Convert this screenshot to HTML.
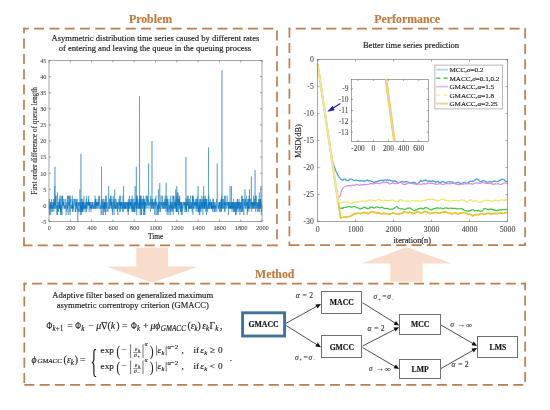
<!DOCTYPE html>
<html><head><meta charset="utf-8"><title>GMACC graphical abstract</title>
<style>
html,body{margin:0;padding:0;background:#fff;}
#root{position:relative;width:550px;height:410px;overflow:hidden;background:#fff;}
svg{display:block;}
svg text{font-family:"Liberation Serif","DejaVu Serif",serif;stroke:currentColor;stroke-width:0.15px;}
</style></head><body><div id="root">
<svg width="550" height="410" viewBox="0 0 550 410">
<polygon points="136.3,247.5 168.1,247.5 168.1,266.5 198.2,266.5 152.3,282.8 106.5,266.5 136.3,266.5" fill="#f9ddcc"/>
<polygon points="390.4,281.6 422.7,281.6 422.7,263.5 452,263.5 406.7,247.2 361.6,263.5 390.4,263.5" fill="#f9ddcc"/>
<line x1="23.15" y1="28.60" x2="277.85" y2="28.60" stroke="#bd7f4b" stroke-width="1.7" stroke-dasharray="10.0 5.28" stroke-dashoffset="4.33"/>
<line x1="277.00" y1="27.75" x2="277.00" y2="246.15" stroke="#bd7f4b" stroke-width="1.7" stroke-dasharray="10.0 5.28" stroke-dashoffset="12.43"/>
<line x1="277.85" y1="245.30" x2="23.15" y2="245.30" stroke="#bd7f4b" stroke-width="1.7" stroke-dasharray="10.0 5.28" stroke-dashoffset="14.43"/>
<line x1="24.00" y1="27.75" x2="24.00" y2="246.15" stroke="#bd7f4b" stroke-width="1.7" stroke-dasharray="10.0 5.28" stroke-dashoffset="4.43"/>
<line x1="288.55" y1="28.60" x2="525.95" y2="28.60" stroke="#bd7f4b" stroke-width="1.7" stroke-dasharray="10.0 5.28" stroke-dashoffset="8.13"/>
<line x1="525.10" y1="27.75" x2="525.10" y2="246.05" stroke="#bd7f4b" stroke-width="1.7" stroke-dasharray="10.0 5.28" stroke-dashoffset="14.43"/>
<line x1="288.55" y1="245.20" x2="525.95" y2="245.20" stroke="#bd7f4b" stroke-width="1.7" stroke-dasharray="10.0 5.28" stroke-dashoffset="14.43"/>
<line x1="289.40" y1="27.75" x2="289.40" y2="246.05" stroke="#bd7f4b" stroke-width="1.7" stroke-dasharray="10.0 5.28" stroke-dashoffset="0.05"/>
<line x1="23.45" y1="283.70" x2="525.95" y2="283.70" stroke="#bd7f4b" stroke-width="1.7" stroke-dasharray="10.0 5.28" stroke-dashoffset="6.65"/>
<line x1="525.10" y1="282.85" x2="525.10" y2="385.75" stroke="#bd7f4b" stroke-width="1.7" stroke-dasharray="10.0 5.28" stroke-dashoffset="2.55"/>
<line x1="23.45" y1="384.90" x2="525.95" y2="384.90" stroke="#bd7f4b" stroke-width="1.7" stroke-dasharray="10.0 5.28" stroke-dashoffset="14.43"/>
<line x1="24.30" y1="282.85" x2="24.30" y2="385.75" stroke="#bd7f4b" stroke-width="1.7" stroke-dasharray="10.0 5.28" stroke-dashoffset="1.55"/>
<text x="150.50" y="22.80" font-size="11.85" text-anchor="middle" font-weight="bold" font-style="normal" fill="#c07a3c" color="#c07a3c" >Problem</text>
<text x="407.20" y="23.10" font-size="11.85" text-anchor="middle" font-weight="bold" font-style="normal" fill="#c07a3c" color="#c07a3c" >Performance</text>
<text x="274.70" y="278.00" font-size="11.85" text-anchor="middle" font-weight="bold" font-style="normal" fill="#c07a3c" color="#c07a3c" >Method</text>
<text x="155.40" y="40.90" font-size="8.52" text-anchor="middle" font-weight="normal" font-style="normal" fill="#1a1a1a" color="#1a1a1a" >Asymmetric distribution time series caused by different rates</text>
<text x="155.00" y="50.70" font-size="8.52" text-anchor="middle" font-weight="normal" font-style="normal" fill="#1a1a1a" color="#1a1a1a" >of entering and leaving the queue in the queuing process</text>
<polyline points="49.00,208.62 49.11,208.62 49.21,205.40 49.32,198.96 49.43,208.62 49.53,215.06 49.64,205.40 49.75,208.62 49.85,205.40 49.96,205.40 50.06,208.62 50.17,202.18 50.28,208.62 50.38,205.40 50.49,205.40 50.60,205.40 50.70,215.06 50.81,202.18 50.92,205.40 51.02,205.40 51.13,202.18 51.24,211.84 51.34,202.18 51.45,198.96 51.56,202.18 51.66,202.18 51.77,208.62 51.88,205.40 51.98,208.62 52.09,208.62 52.20,202.18 52.30,208.62 52.41,211.84 52.51,211.84 52.62,205.40 52.73,205.40 52.83,208.62 52.94,208.62 53.05,202.18 53.15,208.62 53.26,208.62 53.37,208.62 53.47,202.18 53.58,198.96 53.69,205.40 53.79,208.62 53.90,211.84 54.01,202.18 54.11,208.62 54.22,202.18 54.33,202.18 54.43,205.40 54.54,205.40 54.64,202.18 54.75,186.08 54.86,208.62 54.96,166.76 55.07,205.40 55.18,198.96 55.28,205.40 55.39,205.40 55.50,208.62 55.60,208.62 55.71,195.74 55.82,202.18 55.92,202.18 56.03,205.40 56.14,195.74 56.24,205.40 56.35,205.40 56.45,205.40 56.56,208.62 56.67,208.62 56.77,205.40 56.88,205.40 56.99,215.06 57.09,205.40 57.20,205.40 57.31,215.06 57.41,205.40 57.52,192.52 57.63,205.40 57.73,205.40 57.84,211.84 57.95,205.40 58.05,202.18 58.16,202.18 58.27,202.18 58.37,211.84 58.48,205.40 58.59,205.40 58.69,205.40 58.80,205.40 58.90,208.62 59.01,202.18 59.12,205.40 59.22,198.96 59.33,202.18 59.44,202.18 59.54,208.62 59.65,202.18 59.76,208.62 59.86,195.74 59.97,205.40 60.08,208.62 60.18,205.40 60.29,198.96 60.40,211.84 60.50,205.40 60.61,205.40 60.72,205.40 60.82,215.06 60.93,205.40 61.03,211.84 61.14,195.74 61.25,215.06 61.35,205.40 61.46,205.40 61.57,205.40 61.67,205.40 61.78,205.40 61.89,205.40 61.99,215.06 62.10,202.18 62.21,195.74 62.31,202.18 62.42,205.40 62.53,205.40 62.63,195.74 62.74,205.40 62.84,198.96 62.95,205.40 63.06,205.40 63.16,208.62 63.27,202.18 63.38,205.40 63.48,205.40 63.59,202.18 63.70,202.18 63.80,205.40 63.91,205.40 64.02,198.96 64.12,205.40 64.23,205.40 64.34,205.40 64.44,208.62 64.55,208.62 64.66,205.40 64.76,205.40 64.87,205.40 64.97,208.62 65.08,208.62 65.19,205.40 65.29,208.62 65.40,202.18 65.51,202.18 65.61,198.96 65.72,202.18 65.83,205.40 65.93,208.62 66.04,215.06 66.15,208.62 66.25,205.40 66.36,202.18 66.47,205.40 66.57,205.40 66.68,205.40 66.79,205.40 66.89,211.84 67.00,208.62 67.11,205.40 67.21,208.62 67.32,202.18 67.42,202.18 67.53,195.74 67.64,208.62 67.74,205.40 67.85,195.74 67.96,195.74 68.06,205.40 68.17,215.06 68.28,205.40 68.38,202.18 68.49,205.40 68.60,205.40 68.70,205.40 68.81,205.40 68.92,202.18 69.02,195.74 69.13,205.40 69.23,205.40 69.34,195.74 69.45,202.18 69.55,208.62 69.66,202.18 69.77,211.84 69.87,211.84 69.98,208.62 70.09,215.06 70.19,195.74 70.30,195.74 70.41,202.18 70.51,198.96 70.62,205.40 70.73,205.40 70.83,205.40 70.94,208.62 71.05,205.40 71.15,205.40 71.26,205.40 71.36,205.40 71.47,208.62 71.58,205.40 71.68,205.40 71.79,205.40 71.90,208.62 72.00,205.40 72.11,198.96 72.22,205.40 72.32,195.74 72.43,205.40 72.54,211.84 72.64,205.40 72.75,208.62 72.86,202.18 72.96,205.40 73.07,211.84 73.18,205.40 73.28,205.40 73.39,208.62 73.50,205.40 73.60,208.62 73.71,205.40 73.81,202.18 73.92,198.96 74.03,202.18 74.13,205.40 74.24,202.18 74.35,202.18 74.45,198.96 74.56,202.18 74.67,205.40 74.77,205.40 74.88,205.40 74.99,205.40 75.09,205.40 75.20,208.62 75.31,211.84 75.41,208.62 75.52,211.84 75.62,211.84 75.73,198.96 75.84,211.84 75.94,202.18 76.05,202.18 76.16,205.40 76.26,198.96 76.37,198.96 76.48,208.62 76.58,202.18 76.69,205.40 76.80,205.40 76.90,202.18 77.01,208.62 77.12,208.62 77.22,208.62 77.33,198.96 77.44,205.40 77.54,208.62 77.65,208.62 77.75,221.50 77.86,205.40 77.97,205.40 78.07,211.84 78.18,208.62 78.29,208.62 78.39,211.84 78.50,208.62 78.61,202.18 78.71,205.40 78.82,205.40 78.93,205.40 79.03,202.18 79.14,205.40 79.25,202.18 79.35,205.40 79.46,205.40 79.57,205.40 79.67,211.84 79.78,202.18 79.89,189.30 79.99,195.74 80.10,202.18 80.20,205.40 80.31,215.06 80.42,205.40 80.52,211.84 80.63,202.18 80.74,205.40 80.84,208.62 80.95,153.88 81.06,208.62 81.16,198.96 81.27,205.40 81.38,215.06 81.48,205.40 81.59,205.40 81.70,198.96 81.80,208.62 81.91,211.84 82.02,205.40 82.12,211.84 82.23,205.40 82.33,211.84 82.44,205.40 82.55,202.18 82.65,211.84 82.76,202.18 82.87,208.62 82.97,198.96 83.08,205.40 83.19,205.40 83.29,202.18 83.40,205.40 83.51,208.62 83.61,202.18 83.72,205.40 83.83,211.84 83.93,195.74 84.04,205.40 84.15,208.62 84.25,205.40 84.36,208.62 84.46,208.62 84.57,205.40 84.68,205.40 84.78,205.40 84.89,202.18 85.00,205.40 85.10,205.40 85.21,205.40 85.32,208.62 85.42,205.40 85.53,208.62 85.64,202.18 85.74,205.40 85.85,211.84 85.96,208.62 86.06,205.40 86.17,208.62 86.28,198.96 86.38,211.84 86.49,208.62 86.59,202.18 86.70,195.74 86.81,205.40 86.91,202.18 87.02,205.40 87.13,205.40 87.23,205.40 87.34,208.62 87.45,205.40 87.55,205.40 87.66,202.18 87.77,202.18 87.87,205.40 87.98,202.18 88.09,205.40 88.19,205.40 88.30,202.18 88.41,205.40 88.51,198.96 88.62,205.40 88.72,195.74 88.83,202.18 88.94,205.40 89.04,205.40 89.15,211.84 89.26,202.18 89.36,202.18 89.47,205.40 89.58,202.18 89.68,202.18 89.79,205.40 89.90,202.18 90.00,208.62 90.11,205.40 90.22,202.18 90.32,205.40 90.43,208.62 90.53,205.40 90.64,205.40 90.75,208.62 90.85,205.40 90.96,211.84 91.07,208.62 91.17,208.62 91.28,202.18 91.39,208.62 91.49,205.40 91.60,205.40 91.71,205.40 91.81,208.62 91.92,205.40 92.03,205.40 92.13,202.18 92.24,205.40 92.35,208.62 92.45,202.18 92.56,202.18 92.66,205.40 92.77,205.40 92.88,205.40 92.98,205.40 93.09,202.18 93.20,208.62 93.30,205.40 93.41,205.40 93.52,208.62 93.62,205.40 93.73,205.40 93.84,205.40 93.94,205.40 94.05,208.62 94.16,205.40 94.26,205.40 94.37,205.40 94.48,202.18 94.58,208.62 94.69,208.62 94.80,205.40 94.90,205.40 95.01,202.18 95.11,195.74 95.22,208.62 95.33,198.96 95.43,208.62 95.54,208.62 95.65,198.96 95.75,205.40 95.86,205.40 95.97,198.96 96.07,202.18 96.18,205.40 96.29,202.18 96.39,208.62 96.50,208.62 96.61,202.18 96.71,202.18 96.82,205.40 96.92,205.40 97.03,205.40 97.14,208.62 97.24,202.18 97.35,205.40 97.46,205.40 97.56,205.40 97.67,202.18 97.78,205.40 97.88,202.18 97.99,208.62 98.10,205.40 98.20,198.96 98.31,205.40 98.42,205.40 98.52,202.18 98.63,202.18 98.74,205.40 98.84,195.74 98.95,205.40 99.06,208.62 99.16,208.62 99.27,205.40 99.37,205.40 99.48,202.18 99.59,195.74 99.69,202.18 99.80,202.18 99.91,208.62 100.01,208.62 100.12,208.62 100.23,208.62 100.33,208.62 100.44,208.62 100.55,205.40 100.65,208.62 100.76,208.62 100.87,208.62 100.97,205.40 101.08,215.06 101.19,202.18 101.29,202.18 101.40,205.40 101.50,166.76 101.61,208.62 101.72,198.96 101.82,202.18 101.93,205.40 102.04,215.06 102.14,215.06 102.25,211.84 102.36,208.62 102.46,202.18 102.57,205.40 102.68,205.40 102.78,198.96 102.89,208.62 103.00,205.40 103.10,208.62 103.21,208.62 103.31,205.40 103.42,208.62 103.53,215.06 103.63,208.62 103.74,198.96 103.85,208.62 103.95,202.18 104.06,208.62 104.17,211.84 104.27,205.40 104.38,202.18 104.49,208.62 104.59,202.18 104.70,208.62 104.81,205.40 104.91,205.40 105.02,202.18 105.13,211.84 105.23,198.96 105.34,202.18 105.44,205.40 105.55,215.06 105.66,211.84 105.76,195.74 105.87,205.40 105.98,205.40 106.08,208.62 106.19,208.62 106.30,195.74 106.40,205.40 106.51,208.62 106.62,202.18 106.72,205.40 106.83,205.40 106.94,208.62 107.04,211.84 107.15,208.62 107.26,208.62 107.36,205.40 107.47,205.40 107.58,202.18 107.68,205.40 107.79,205.40 107.89,208.62 108.00,211.84 108.11,208.62 108.21,208.62 108.32,208.62 108.43,205.40 108.53,198.96 108.64,186.08 108.75,205.40 108.85,205.40 108.96,208.62 109.07,205.40 109.17,205.40 109.28,208.62 109.39,205.40 109.49,198.96 109.60,208.62 109.70,202.18 109.81,202.18 109.92,202.18 110.02,198.96 110.13,198.96 110.24,205.40 110.34,205.40 110.45,205.40 110.56,195.74 110.66,205.40 110.77,205.40 110.88,202.18 110.98,208.62 111.09,195.74 111.20,202.18 111.30,202.18 111.41,202.18 111.52,208.62 111.62,202.18 111.73,205.40 111.84,198.96 111.94,208.62 112.05,205.40 112.15,205.40 112.26,211.84 112.37,208.62 112.47,215.06 112.58,211.84 112.69,211.84 112.79,202.18 112.90,202.18 113.01,202.18 113.11,208.62 113.22,195.74 113.33,202.18 113.43,208.62 113.54,208.62 113.65,202.18 113.75,198.96 113.86,208.62 113.97,215.06 114.07,215.06 114.18,208.62 114.28,205.40 114.39,202.18 114.50,205.40 114.60,195.74 114.71,189.30 114.82,208.62 114.92,205.40 115.03,208.62 115.14,198.96 115.24,202.18 115.35,208.62 115.46,208.62 115.56,205.40 115.67,208.62 115.78,208.62 115.88,208.62 115.99,202.18 116.09,198.96 116.20,208.62 116.31,208.62 116.41,208.62 116.52,205.40 116.63,205.40 116.73,202.18 116.84,208.62 116.95,202.18 117.05,205.40 117.16,205.40 117.27,211.84 117.37,208.62 117.48,202.18 117.59,202.18 117.69,205.40 117.80,215.06 117.91,205.40 118.01,205.40 118.12,208.62 118.22,202.18 118.33,205.40 118.44,205.40 118.54,205.40 118.65,205.40 118.76,205.40 118.86,208.62 118.97,198.96 119.08,205.40 119.18,205.40 119.29,202.18 119.40,202.18 119.50,205.40 119.61,195.74 119.72,198.96 119.82,208.62 119.93,211.84 120.04,202.18 120.14,211.84 120.25,202.18 120.36,208.62 120.46,208.62 120.57,205.40 120.67,195.74 120.78,205.40 120.89,202.18 120.99,205.40 121.10,202.18 121.21,208.62 121.31,202.18 121.42,205.40 121.53,205.40 121.63,205.40 121.74,205.40 121.85,205.40 121.95,205.40 122.06,205.40 122.17,208.62 122.27,202.18 122.38,208.62 122.48,208.62 122.59,202.18 122.70,211.84 122.80,208.62 122.91,205.40 123.02,195.74 123.12,198.96 123.23,211.84 123.34,202.18 123.44,202.18 123.55,186.08 123.66,205.40 123.76,205.40 123.87,208.62 123.98,202.18 124.08,208.62 124.19,205.40 124.30,202.18 124.40,208.62 124.51,205.40 124.61,205.40 124.72,208.62 124.83,202.18 124.93,205.40 125.04,208.62 125.15,205.40 125.25,208.62 125.36,208.62 125.47,205.40 125.57,208.62 125.68,202.18 125.79,208.62 125.89,202.18 126.00,205.40 126.11,202.18 126.21,205.40 126.32,205.40 126.43,208.62 126.53,205.40 126.64,202.18 126.75,202.18 126.85,202.18 126.96,205.40 127.06,205.40 127.17,205.40 127.28,205.40 127.38,211.84 127.49,202.18 127.60,208.62 127.70,208.62 127.81,202.18 127.92,205.40 128.02,205.40 128.13,202.18 128.24,215.06 128.34,198.96 128.45,205.40 128.56,211.84 128.66,202.18 128.77,208.62 128.88,205.40 128.98,208.62 129.09,202.18 129.19,205.40 129.30,205.40 129.41,195.74 129.51,205.40 129.62,208.62 129.73,205.40 129.83,205.40 129.94,205.40 130.05,198.96 130.15,205.40 130.26,202.18 130.37,205.40 130.47,205.40 130.58,202.18 130.69,202.18 130.79,208.62 130.90,202.18 131.00,205.40 131.11,202.18 131.22,205.40 131.32,208.62 131.43,208.62 131.54,198.96 131.64,205.40 131.75,208.62 131.86,205.40 131.96,205.40 132.07,211.84 132.18,195.74 132.28,211.84 132.39,205.40 132.50,205.40 132.60,198.96 132.71,205.40 132.82,202.18 132.92,211.84 133.03,205.40 133.13,208.62 133.24,208.62 133.35,208.62 133.45,205.40 133.56,205.40 133.67,211.84 133.77,208.62 133.88,198.96 133.99,208.62 134.09,211.84 134.20,205.40 134.31,202.18 134.41,211.84 134.52,208.62 134.63,202.18 134.73,208.62 134.84,208.62 134.95,208.62 135.05,205.40 135.16,186.08 135.26,202.18 135.37,205.40 135.48,202.18 135.58,205.40 135.69,202.18 135.80,208.62 135.90,211.84 136.01,198.96 136.12,208.62 136.22,205.40 136.33,166.76 136.44,208.62 136.54,208.62 136.65,195.74 136.76,215.06 136.86,202.18 136.97,198.96 137.08,205.40 137.18,205.40 137.29,195.74 137.39,198.96 137.50,208.62 137.61,205.40 137.71,205.40 137.82,205.40 137.93,198.96 138.03,202.18 138.14,205.40 138.25,205.40 138.35,208.62 138.46,208.62 138.57,205.40 138.67,205.40 138.78,208.62 138.89,202.18 138.99,205.40 139.10,208.62 139.21,202.18 139.31,208.62 139.42,205.40 139.53,95.92 139.63,205.40 139.74,198.96 139.84,208.62 139.95,195.74 140.06,198.96 140.16,215.06 140.27,205.40 140.38,195.74 140.48,208.62 140.59,208.62 140.70,198.96 140.80,205.40 140.91,198.96 141.02,198.96 141.12,215.06 141.23,195.74 141.34,202.18 141.44,202.18 141.55,215.06 141.66,205.40 141.76,205.40 141.87,202.18 141.97,202.18 142.08,208.62 142.19,208.62 142.29,205.40 142.40,208.62 142.51,205.40 142.61,198.96 142.72,205.40 142.83,205.40 142.93,202.18 143.04,205.40 143.15,198.96 143.25,205.40 143.36,195.74 143.47,195.74 143.57,195.74 143.68,208.62 143.78,215.06 143.89,205.40 144.00,215.06 144.10,198.96 144.21,208.62 144.32,198.96 144.42,205.40 144.53,202.18 144.64,211.84 144.74,205.40 144.85,215.06 144.96,202.18 145.06,205.40 145.17,208.62 145.28,202.18 145.38,202.18 145.49,205.40 145.60,202.18 145.70,202.18 145.81,205.40 145.92,208.62 146.02,195.74 146.13,202.18 146.23,202.18 146.34,205.40 146.45,205.40 146.55,205.40 146.66,205.40 146.77,205.40 146.87,195.74 146.98,198.96 147.09,205.40 147.19,208.62 147.30,208.62 147.41,195.74 147.51,202.18 147.62,202.18 147.73,205.40 147.83,205.40 147.94,205.40 148.05,198.96 148.15,202.18 148.26,205.40 148.36,198.96 148.47,195.74 148.58,163.54 148.68,198.96 148.79,205.40 148.90,208.62 149.00,208.62 149.11,205.40 149.22,205.40 149.32,205.40 149.43,202.18 149.54,202.18 149.64,205.40 149.75,205.40 149.86,205.40 149.96,205.40 150.07,202.18 150.18,205.40 150.28,205.40 150.39,211.84 150.49,208.62 150.60,208.62 150.71,195.74 150.81,205.40 150.92,198.96 151.03,205.40 151.13,202.18 151.24,202.18 151.35,202.18 151.45,208.62 151.56,205.40 151.67,205.40 151.77,208.62 151.88,205.40 151.99,141.00 152.09,205.40 152.20,198.96 152.31,205.40 152.41,205.40 152.52,205.40 152.62,208.62 152.73,198.96 152.84,205.40 152.94,202.18 153.05,205.40 153.16,205.40 153.26,205.40 153.37,208.62 153.48,205.40 153.58,208.62 153.69,202.18 153.80,205.40 153.90,202.18 154.01,202.18 154.12,202.18 154.22,205.40 154.33,205.40 154.44,202.18 154.54,202.18 154.65,208.62 154.75,215.06 154.86,198.96 154.97,205.40 155.07,205.40 155.18,208.62 155.29,208.62 155.39,202.18 155.50,198.96 155.61,205.40 155.71,198.96 155.82,198.96 155.93,195.74 156.03,202.18 156.14,215.06 156.25,205.40 156.35,205.40 156.46,205.40 156.56,202.18 156.67,202.18 156.78,205.40 156.88,202.18 156.99,202.18 157.10,205.40 157.20,205.40 157.31,215.06 157.42,205.40 157.52,205.40 157.63,208.62 157.74,205.40 157.84,208.62 157.95,205.40 158.06,205.40 158.16,211.84 158.27,215.06 158.38,189.30 158.48,205.40 158.59,211.84 158.69,202.18 158.80,208.62 158.91,208.62 159.01,208.62 159.12,205.40 159.23,202.18 159.33,202.18 159.44,205.40 159.55,208.62 159.65,208.62 159.76,182.86 159.87,205.40 159.97,211.84 160.08,205.40 160.19,202.18 160.29,205.40 160.40,211.84 160.51,208.62 160.61,208.62 160.72,208.62 160.82,202.18 160.93,202.18 161.04,198.96 161.14,195.74 161.25,205.40 161.36,202.18 161.46,205.40 161.57,205.40 161.68,202.18 161.78,208.62 161.89,208.62 162.00,208.62 162.10,205.40 162.21,205.40 162.32,205.40 162.42,195.74 162.53,202.18 162.64,205.40 162.74,208.62 162.85,202.18 162.95,202.18 163.06,205.40 163.17,208.62 163.27,205.40 163.38,205.40 163.49,205.40 163.59,202.18 163.70,208.62 163.81,205.40 163.91,208.62 164.02,202.18 164.13,205.40 164.23,202.18 164.34,208.62 164.45,208.62 164.55,208.62 164.66,208.62 164.77,198.96 164.87,202.18 164.98,202.18 165.08,205.40 165.19,195.74 165.30,205.40 165.40,208.62 165.51,202.18 165.62,205.40 165.72,205.40 165.83,205.40 165.94,211.84 166.04,208.62 166.15,182.86 166.26,205.40 166.36,205.40 166.47,198.96 166.58,205.40 166.68,202.18 166.79,208.62 166.90,208.62 167.00,195.74 167.11,215.06 167.22,205.40 167.32,205.40 167.43,198.96 167.53,211.84 167.64,205.40 167.75,205.40 167.85,205.40 167.96,205.40 168.07,198.96 168.17,211.84 168.28,205.40 168.39,205.40 168.49,205.40 168.60,205.40 168.71,205.40 168.81,202.18 168.92,215.06 169.03,205.40 169.13,205.40 169.24,208.62 169.34,208.62 169.45,208.62 169.56,205.40 169.66,208.62 169.77,208.62 169.88,205.40 169.98,205.40 170.09,211.84 170.20,198.96 170.30,205.40 170.41,215.06 170.52,202.18 170.62,205.40 170.73,195.74 170.84,198.96 170.94,208.62 171.05,205.40 171.16,202.18 171.26,208.62 171.37,205.40 171.47,205.40 171.58,211.84 171.69,208.62 171.79,205.40 171.90,202.18 172.01,205.40 172.11,208.62 172.22,205.40 172.33,205.40 172.43,205.40 172.54,202.18 172.65,211.84 172.75,195.74 172.86,205.40 172.97,208.62 173.07,205.40 173.18,205.40 173.29,215.06 173.39,205.40 173.50,208.62 173.61,195.74 173.71,198.96 173.82,195.74 173.92,205.40 174.03,198.96 174.14,202.18 174.24,205.40 174.35,205.40 174.46,205.40 174.56,205.40 174.67,208.62 174.78,202.18 174.88,208.62 174.99,202.18 175.10,205.40 175.20,202.18 175.31,205.40 175.42,202.18 175.52,208.62 175.63,202.18 175.74,189.30 175.84,205.40 175.95,205.40 176.05,198.96 176.16,211.84 176.27,195.74 176.37,211.84 176.48,202.18 176.59,211.84 176.69,211.84 176.80,186.08 176.91,211.84 177.01,208.62 177.12,205.40 177.23,208.62 177.33,211.84 177.44,192.52 177.55,202.18 177.65,205.40 177.76,202.18 177.87,195.74 177.97,192.52 178.08,205.40 178.18,205.40 178.29,198.96 178.40,205.40 178.50,215.06 178.61,208.62 178.72,198.96 178.82,198.96 178.93,208.62 179.04,208.62 179.14,195.74 179.25,205.40 179.36,198.96 179.46,198.96 179.57,205.40 179.68,195.74 179.78,208.62 179.89,208.62 180.00,205.40 180.10,202.18 180.21,208.62 180.31,208.62 180.42,211.84 180.53,202.18 180.63,205.40 180.74,211.84 180.85,202.18 180.95,205.40 181.06,202.18 181.17,205.40 181.27,205.40 181.38,215.06 181.49,202.18 181.59,202.18 181.70,211.84 181.81,208.62 181.91,202.18 182.02,205.40 182.12,208.62 182.23,205.40 182.34,215.06 182.44,205.40 182.55,205.40 182.66,205.40 182.76,205.40 182.87,205.40 182.98,208.62 183.08,205.40 183.19,205.40 183.30,202.18 183.40,205.40 183.51,205.40 183.62,205.40 183.72,205.40 183.83,202.18 183.94,205.40 184.04,202.18 184.15,202.18 184.25,205.40 184.36,205.40 184.47,202.18 184.57,205.40 184.68,205.40 184.79,208.62 184.89,211.84 185.00,205.40 185.11,202.18 185.21,202.18 185.32,208.62 185.43,202.18 185.53,208.62 185.64,205.40 185.75,205.40 185.85,208.62 185.96,157.10 186.07,211.84 186.17,198.96 186.28,211.84 186.38,205.40 186.49,205.40 186.60,202.18 186.70,211.84 186.81,208.62 186.92,205.40 187.02,205.40 187.13,202.18 187.24,205.40 187.34,195.74 187.45,205.40 187.56,205.40 187.66,205.40 187.77,202.18 187.88,198.96 187.98,205.40 188.09,205.40 188.20,195.74 188.30,205.40 188.41,205.40 188.51,211.84 188.62,205.40 188.73,202.18 188.83,208.62 188.94,205.40 189.05,208.62 189.15,202.18 189.26,208.62 189.37,205.40 189.47,198.96 189.58,205.40 189.69,205.40 189.79,205.40 189.90,208.62 190.01,205.40 190.11,205.40 190.22,208.62 190.33,205.40 190.43,202.18 190.54,202.18 190.65,195.74 190.75,208.62 190.86,208.62 190.96,202.18 191.07,205.40 191.18,202.18 191.28,208.62 191.39,208.62 191.50,205.40 191.60,205.40 191.71,208.62 191.82,205.40 191.92,202.18 192.03,205.40 192.14,211.84 192.24,211.84 192.35,205.40 192.46,195.74 192.56,205.40 192.67,195.74 192.78,208.62 192.88,215.06 192.99,205.40 193.09,205.40 193.20,208.62 193.31,195.74 193.41,205.40 193.52,208.62 193.63,208.62 193.73,198.96 193.84,202.18 193.95,205.40 194.05,202.18 194.16,205.40 194.27,205.40 194.37,208.62 194.48,208.62 194.59,202.18 194.69,205.40 194.80,202.18 194.91,202.18 195.01,205.40 195.12,205.40 195.22,205.40 195.33,202.18 195.44,205.40 195.54,205.40 195.65,205.40 195.76,198.96 195.86,205.40 195.97,208.62 196.08,202.18 196.18,211.84 196.29,205.40 196.40,198.96 196.50,205.40 196.61,208.62 196.72,205.40 196.82,202.18 196.93,205.40 197.03,202.18 197.14,198.96 197.25,205.40 197.35,195.74 197.46,205.40 197.57,208.62 197.67,208.62 197.78,205.40 197.89,205.40 197.99,211.84 198.10,186.08 198.21,211.84 198.31,202.18 198.42,205.40 198.53,205.40 198.63,211.84 198.74,208.62 198.85,208.62 198.95,205.40 199.06,211.84 199.16,215.06 199.27,205.40 199.38,198.96 199.48,208.62 199.59,208.62 199.70,202.18 199.80,215.06 199.91,205.40 200.02,211.84 200.12,211.84 200.23,202.18 200.34,198.96 200.44,205.40 200.55,208.62 200.66,198.96 200.76,202.18 200.87,202.18 200.98,211.84 201.08,208.62 201.19,202.18 201.29,205.40 201.40,205.40 201.51,205.40 201.61,208.62 201.72,202.18 201.83,205.40 201.93,195.74 202.04,208.62 202.15,198.96 202.25,208.62 202.36,202.18 202.47,202.18 202.57,202.18 202.68,205.40 202.79,202.18 202.89,215.06 203.00,202.18 203.11,198.96 203.21,205.40 203.32,205.40 203.43,208.62 203.53,208.62 203.64,186.08 203.74,202.18 203.85,195.74 203.96,208.62 204.06,202.18 204.17,208.62 204.28,198.96 204.38,205.40 204.49,208.62 204.60,202.18 204.70,202.18 204.81,208.62 204.92,202.18 205.02,205.40 205.13,202.18 205.24,205.40 205.34,195.74 205.45,205.40 205.56,202.18 205.66,198.96 205.77,211.84 205.87,202.18 205.98,198.96 206.09,208.62 206.19,205.40 206.30,208.62 206.41,205.40 206.51,215.06 206.62,198.96 206.73,205.40 206.83,198.96 206.94,202.18 207.05,205.40 207.15,205.40 207.26,208.62 207.37,208.62 207.47,211.84 207.58,211.84 207.69,205.40 207.79,208.62 207.90,205.40 208.00,202.18 208.11,205.40 208.22,205.40 208.32,208.62 208.43,208.62 208.54,147.44 208.64,202.18 208.75,195.74 208.86,208.62 208.96,202.18 209.07,208.62 209.18,202.18 209.28,205.40 209.39,202.18 209.50,202.18 209.60,205.40 209.71,202.18 209.81,208.62 209.92,208.62 210.03,205.40 210.13,202.18 210.24,202.18 210.35,198.96 210.45,205.40 210.56,205.40 210.67,202.18 210.77,205.40 210.88,205.40 210.99,208.62 211.09,202.18 211.20,208.62 211.31,205.40 211.41,208.62 211.52,202.18 211.63,208.62 211.73,202.18 211.84,208.62 211.94,205.40 212.05,202.18 212.16,208.62 212.26,205.40 212.37,211.84 212.48,211.84 212.58,205.40 212.69,205.40 212.80,208.62 212.90,205.40 213.01,198.96 213.12,208.62 213.22,205.40 213.33,198.96 213.44,198.96 213.54,208.62 213.65,202.18 213.76,202.18 213.86,211.84 213.97,211.84 214.07,205.40 214.18,205.40 214.29,205.40 214.39,202.18 214.50,205.40 214.61,208.62 214.71,211.84 214.82,205.40 214.93,208.62 215.03,205.40 215.14,211.84 215.25,208.62 215.35,202.18 215.46,202.18 215.57,202.18 215.67,208.62 215.78,205.40 215.89,205.40 215.99,205.40 216.10,208.62 216.21,205.40 216.31,205.40 216.42,205.40 216.52,205.40 216.63,198.96 216.74,205.40 216.84,211.84 216.95,205.40 217.06,205.40 217.16,202.18 217.27,163.54 217.38,205.40 217.48,205.40 217.59,205.40 217.70,205.40 217.80,205.40 217.91,205.40 218.02,205.40 218.12,205.40 218.23,208.62 218.34,205.40 218.44,208.62 218.55,205.40 218.65,205.40 218.76,202.18 218.87,202.18 218.97,205.40 219.08,205.40 219.19,208.62 219.29,202.18 219.40,205.40 219.51,202.18 219.61,205.40 219.72,211.84 219.83,202.18 219.93,205.40 220.04,211.84 220.15,205.40 220.25,205.40 220.36,205.40 220.47,208.62 220.57,202.18 220.68,205.40 220.78,205.40 220.89,202.18 221.00,198.96 221.10,205.40 221.21,211.84 221.32,205.40 221.42,211.84 221.53,198.96 221.64,208.62 221.74,195.74 221.85,208.62 221.96,70.16 222.06,198.96 222.17,202.18 222.28,208.62 222.38,205.40 222.49,205.40 222.59,208.62 222.70,205.40 222.81,198.96 222.91,205.40 223.02,202.18 223.13,205.40 223.23,205.40 223.34,208.62 223.45,205.40 223.55,202.18 223.66,198.96 223.77,202.18 223.87,202.18 223.98,205.40 224.09,208.62 224.19,205.40 224.30,202.18 224.41,208.62 224.51,202.18 224.62,195.74 224.72,211.84 224.83,208.62 224.94,211.84 225.04,208.62 225.15,202.18 225.26,205.40 225.36,195.74 225.47,202.18 225.58,202.18 225.68,208.62 225.79,202.18 225.90,205.40 226.00,205.40 226.11,205.40 226.22,208.62 226.32,208.62 226.43,205.40 226.54,202.18 226.64,205.40 226.75,205.40 226.85,202.18 226.96,202.18 227.07,195.74 227.17,195.74 227.28,198.96 227.39,205.40 227.49,205.40 227.60,205.40 227.71,205.40 227.81,202.18 227.92,205.40 228.03,208.62 228.13,205.40 228.24,202.18 228.35,205.40 228.45,202.18 228.56,215.06 228.67,205.40 228.77,208.62 228.88,205.40 228.99,202.18 229.09,208.62 229.20,202.18 229.30,208.62 229.41,205.40 229.52,202.18 229.62,205.40 229.73,205.40 229.84,208.62 229.94,205.40 230.05,186.08 230.16,198.96 230.26,205.40 230.37,205.40 230.48,208.62 230.58,205.40 230.69,208.62 230.80,202.18 230.90,205.40 231.01,205.40 231.12,208.62 231.22,205.40 231.33,202.18 231.43,208.62 231.54,186.08 231.65,205.40 231.75,208.62 231.86,205.40 231.97,202.18 232.07,211.84 232.18,202.18 232.29,208.62 232.39,202.18 232.50,202.18 232.61,205.40 232.71,205.40 232.82,208.62 232.93,205.40 233.03,202.18 233.14,208.62 233.25,202.18 233.35,208.62 233.46,208.62 233.56,211.84 233.67,198.96 233.78,205.40 233.88,205.40 233.99,208.62 234.10,202.18 234.20,211.84 234.31,205.40 234.42,211.84 234.52,205.40 234.63,205.40 234.74,202.18 234.84,208.62 234.95,205.40 235.06,202.18 235.16,205.40 235.27,205.40 235.38,205.40 235.48,211.84 235.59,205.40 235.69,202.18 235.80,215.06 235.91,205.40 236.01,215.06 236.12,202.18 236.23,202.18 236.33,208.62 236.44,211.84 236.55,208.62 236.65,202.18 236.76,208.62 236.87,208.62 236.97,205.40 237.08,202.18 237.19,205.40 237.29,198.96 237.40,208.62 237.50,198.96 237.61,202.18 237.72,205.40 237.82,211.84 237.93,208.62 238.04,202.18 238.14,208.62 238.25,202.18 238.36,205.40 238.46,205.40 238.57,202.18 238.68,205.40 238.78,208.62 238.89,205.40 239.00,198.96 239.10,211.84 239.21,208.62 239.32,202.18 239.42,205.40 239.53,208.62 239.63,208.62 239.74,205.40 239.85,202.18 239.95,215.06 240.06,205.40 240.17,202.18 240.27,208.62 240.38,205.40 240.49,208.62 240.59,205.40 240.70,202.18 240.81,202.18 240.91,208.62 241.02,211.84 241.13,208.62 241.23,208.62 241.34,205.40 241.45,211.84 241.55,195.74 241.66,205.40 241.76,205.40 241.87,202.18 241.98,205.40 242.08,198.96 242.19,211.84 242.30,195.74 242.40,208.62 242.51,208.62 242.62,205.40 242.72,205.40 242.83,211.84 242.94,211.84 243.04,205.40 243.15,205.40 243.26,205.40 243.36,198.96 243.47,202.18 243.58,205.40 243.68,205.40 243.79,215.06 243.90,208.62 244.00,208.62 244.11,205.40 244.21,205.40 244.32,198.96 244.43,205.40 244.53,202.18 244.64,205.40 244.75,205.40 244.85,205.40 244.96,189.30 245.07,208.62 245.17,205.40 245.28,205.40 245.39,205.40 245.49,205.40 245.60,198.96 245.71,208.62 245.81,205.40 245.92,205.40 246.03,208.62 246.13,205.40 246.24,202.18 246.34,202.18 246.45,195.74 246.56,205.40 246.66,205.40 246.77,202.18 246.88,205.40 246.98,205.40 247.09,205.40 247.20,202.18 247.30,215.06 247.41,202.18 247.52,211.84 247.62,202.18 247.73,198.96 247.84,202.18 247.94,205.40 248.05,208.62 248.16,205.40 248.26,208.62 248.37,202.18 248.47,208.62 248.58,198.96 248.69,202.18 248.79,211.84 248.90,205.40 249.01,208.62 249.11,195.74 249.22,208.62 249.33,205.40 249.43,202.18 249.54,189.30 249.65,202.18 249.75,198.96 249.86,205.40 249.97,205.40 250.07,205.40 250.18,208.62 250.28,205.40 250.39,205.40 250.50,202.18 250.60,198.96 250.71,202.18 250.82,205.40 250.92,202.18 251.03,208.62 251.14,208.62 251.24,205.40 251.35,176.42 251.46,202.18 251.56,205.40 251.67,211.84 251.78,202.18 251.88,202.18 251.99,205.40 252.10,205.40 252.20,202.18 252.31,208.62 252.41,205.40 252.52,202.18 252.63,205.40 252.73,202.18 252.84,202.18 252.95,208.62 253.05,205.40 253.16,208.62 253.27,205.40 253.37,208.62 253.48,195.74 253.59,205.40 253.69,202.18 253.80,205.40 253.91,208.62 254.01,202.18 254.12,205.40 254.23,202.18 254.33,205.40 254.44,202.18 254.54,198.96 254.65,205.40 254.76,202.18 254.86,208.62 254.97,202.18 255.08,169.98 255.18,205.40 255.29,205.40 255.40,195.74 255.50,198.96 255.61,211.84 255.72,205.40 255.82,208.62 255.93,202.18 256.04,205.40 256.14,205.40 256.25,205.40 256.36,195.74 256.46,202.18 256.57,205.40 256.68,205.40 256.78,208.62 256.89,205.40 256.99,202.18 257.10,208.62 257.21,202.18 257.31,211.84 257.42,211.84 257.53,208.62 257.63,205.40 257.74,205.40 257.85,205.40 257.95,205.40 258.06,202.18 258.17,205.40 258.27,208.62 258.38,208.62 258.49,198.96 258.59,211.84 258.70,205.40 258.81,202.18 258.91,205.40 259.02,208.62 259.12,205.40 259.23,202.18 259.34,192.52 259.44,208.62 259.55,202.18 259.66,211.84 259.76,202.18 259.87,198.96 259.98,205.40 260.08,208.62 260.19,205.40 260.30,198.96 260.40,202.18 260.51,205.40 260.62,198.96 260.72,208.62 260.83,202.18 260.94,186.08 261.04,205.40 261.15,205.40 261.25,202.18 261.36,215.06 261.47,208.62 261.57,211.84 261.68,205.40 261.79,208.62 261.89,205.40" fill="none" stroke="#0072bd" stroke-width="0.42"/>
<rect x="49" y="60.5" width="213" height="161.0" fill="none" stroke="#6a6a6a" stroke-width="0.6"/>
<line x1="49.00" y1="221.50" x2="51.00" y2="221.50" stroke="#6a6a6a" stroke-width="0.6" />
<line x1="262.00" y1="221.50" x2="260.00" y2="221.50" stroke="#6a6a6a" stroke-width="0.6" />
<text x="0.00" y="0.00" font-size="7.1" text-anchor="end" font-weight="normal" font-style="normal" fill="#444" color="#444" style="stroke-width:0.08px" transform="translate(46.4,223.80) scale(0.88,1)">-5</text>
<line x1="49.00" y1="205.40" x2="51.00" y2="205.40" stroke="#6a6a6a" stroke-width="0.6" />
<line x1="262.00" y1="205.40" x2="260.00" y2="205.40" stroke="#6a6a6a" stroke-width="0.6" />
<text x="0.00" y="0.00" font-size="7.1" text-anchor="end" font-weight="normal" font-style="normal" fill="#444" color="#444" style="stroke-width:0.08px" transform="translate(46.4,207.70) scale(0.88,1)">0</text>
<line x1="49.00" y1="189.30" x2="51.00" y2="189.30" stroke="#6a6a6a" stroke-width="0.6" />
<line x1="262.00" y1="189.30" x2="260.00" y2="189.30" stroke="#6a6a6a" stroke-width="0.6" />
<text x="0.00" y="0.00" font-size="7.1" text-anchor="end" font-weight="normal" font-style="normal" fill="#444" color="#444" style="stroke-width:0.08px" transform="translate(46.4,191.60) scale(0.88,1)">5</text>
<line x1="49.00" y1="173.20" x2="51.00" y2="173.20" stroke="#6a6a6a" stroke-width="0.6" />
<line x1="262.00" y1="173.20" x2="260.00" y2="173.20" stroke="#6a6a6a" stroke-width="0.6" />
<text x="0.00" y="0.00" font-size="7.1" text-anchor="end" font-weight="normal" font-style="normal" fill="#444" color="#444" style="stroke-width:0.08px" transform="translate(46.4,175.50) scale(0.88,1)">10</text>
<line x1="49.00" y1="157.10" x2="51.00" y2="157.10" stroke="#6a6a6a" stroke-width="0.6" />
<line x1="262.00" y1="157.10" x2="260.00" y2="157.10" stroke="#6a6a6a" stroke-width="0.6" />
<text x="0.00" y="0.00" font-size="7.1" text-anchor="end" font-weight="normal" font-style="normal" fill="#444" color="#444" style="stroke-width:0.08px" transform="translate(46.4,159.40) scale(0.88,1)">15</text>
<line x1="49.00" y1="141.00" x2="51.00" y2="141.00" stroke="#6a6a6a" stroke-width="0.6" />
<line x1="262.00" y1="141.00" x2="260.00" y2="141.00" stroke="#6a6a6a" stroke-width="0.6" />
<text x="0.00" y="0.00" font-size="7.1" text-anchor="end" font-weight="normal" font-style="normal" fill="#444" color="#444" style="stroke-width:0.08px" transform="translate(46.4,143.30) scale(0.88,1)">20</text>
<line x1="49.00" y1="124.90" x2="51.00" y2="124.90" stroke="#6a6a6a" stroke-width="0.6" />
<line x1="262.00" y1="124.90" x2="260.00" y2="124.90" stroke="#6a6a6a" stroke-width="0.6" />
<text x="0.00" y="0.00" font-size="7.1" text-anchor="end" font-weight="normal" font-style="normal" fill="#444" color="#444" style="stroke-width:0.08px" transform="translate(46.4,127.20) scale(0.88,1)">25</text>
<line x1="49.00" y1="108.80" x2="51.00" y2="108.80" stroke="#6a6a6a" stroke-width="0.6" />
<line x1="262.00" y1="108.80" x2="260.00" y2="108.80" stroke="#6a6a6a" stroke-width="0.6" />
<text x="0.00" y="0.00" font-size="7.1" text-anchor="end" font-weight="normal" font-style="normal" fill="#444" color="#444" style="stroke-width:0.08px" transform="translate(46.4,111.10) scale(0.88,1)">30</text>
<line x1="49.00" y1="92.70" x2="51.00" y2="92.70" stroke="#6a6a6a" stroke-width="0.6" />
<line x1="262.00" y1="92.70" x2="260.00" y2="92.70" stroke="#6a6a6a" stroke-width="0.6" />
<text x="0.00" y="0.00" font-size="7.1" text-anchor="end" font-weight="normal" font-style="normal" fill="#444" color="#444" style="stroke-width:0.08px" transform="translate(46.4,95.00) scale(0.88,1)">35</text>
<line x1="49.00" y1="76.60" x2="51.00" y2="76.60" stroke="#6a6a6a" stroke-width="0.6" />
<line x1="262.00" y1="76.60" x2="260.00" y2="76.60" stroke="#6a6a6a" stroke-width="0.6" />
<text x="0.00" y="0.00" font-size="7.1" text-anchor="end" font-weight="normal" font-style="normal" fill="#444" color="#444" style="stroke-width:0.08px" transform="translate(46.4,78.90) scale(0.88,1)">40</text>
<line x1="49.00" y1="60.50" x2="51.00" y2="60.50" stroke="#6a6a6a" stroke-width="0.6" />
<line x1="262.00" y1="60.50" x2="260.00" y2="60.50" stroke="#6a6a6a" stroke-width="0.6" />
<text x="0.00" y="0.00" font-size="7.1" text-anchor="end" font-weight="normal" font-style="normal" fill="#444" color="#444" style="stroke-width:0.08px" transform="translate(46.4,62.80) scale(0.88,1)">45</text>
<line x1="49.00" y1="221.50" x2="49.00" y2="219.50" stroke="#6a6a6a" stroke-width="0.6" />
<line x1="49.00" y1="60.50" x2="49.00" y2="62.50" stroke="#6a6a6a" stroke-width="0.6" />
<text x="0.00" y="0.00" font-size="7.1" text-anchor="middle" font-weight="normal" font-style="normal" fill="#444" color="#444" style="stroke-width:0.08px" transform="translate(49.40,230) scale(0.9,1)">0</text>
<line x1="70.30" y1="221.50" x2="70.30" y2="219.50" stroke="#6a6a6a" stroke-width="0.6" />
<line x1="70.30" y1="60.50" x2="70.30" y2="62.50" stroke="#6a6a6a" stroke-width="0.6" />
<text x="0.00" y="0.00" font-size="7.1" text-anchor="middle" font-weight="normal" font-style="normal" fill="#444" color="#444" style="stroke-width:0.08px" transform="translate(70.70,230) scale(0.9,1)">200</text>
<line x1="91.60" y1="221.50" x2="91.60" y2="219.50" stroke="#6a6a6a" stroke-width="0.6" />
<line x1="91.60" y1="60.50" x2="91.60" y2="62.50" stroke="#6a6a6a" stroke-width="0.6" />
<text x="0.00" y="0.00" font-size="7.1" text-anchor="middle" font-weight="normal" font-style="normal" fill="#444" color="#444" style="stroke-width:0.08px" transform="translate(92.00,230) scale(0.9,1)">400</text>
<line x1="112.90" y1="221.50" x2="112.90" y2="219.50" stroke="#6a6a6a" stroke-width="0.6" />
<line x1="112.90" y1="60.50" x2="112.90" y2="62.50" stroke="#6a6a6a" stroke-width="0.6" />
<text x="0.00" y="0.00" font-size="7.1" text-anchor="middle" font-weight="normal" font-style="normal" fill="#444" color="#444" style="stroke-width:0.08px" transform="translate(113.30,230) scale(0.9,1)">600</text>
<line x1="134.20" y1="221.50" x2="134.20" y2="219.50" stroke="#6a6a6a" stroke-width="0.6" />
<line x1="134.20" y1="60.50" x2="134.20" y2="62.50" stroke="#6a6a6a" stroke-width="0.6" />
<text x="0.00" y="0.00" font-size="7.1" text-anchor="middle" font-weight="normal" font-style="normal" fill="#444" color="#444" style="stroke-width:0.08px" transform="translate(134.60,230) scale(0.9,1)">800</text>
<line x1="155.50" y1="221.50" x2="155.50" y2="219.50" stroke="#6a6a6a" stroke-width="0.6" />
<line x1="155.50" y1="60.50" x2="155.50" y2="62.50" stroke="#6a6a6a" stroke-width="0.6" />
<text x="0.00" y="0.00" font-size="7.1" text-anchor="middle" font-weight="normal" font-style="normal" fill="#444" color="#444" style="stroke-width:0.08px" transform="translate(155.90,230) scale(0.9,1)">1000</text>
<line x1="176.80" y1="221.50" x2="176.80" y2="219.50" stroke="#6a6a6a" stroke-width="0.6" />
<line x1="176.80" y1="60.50" x2="176.80" y2="62.50" stroke="#6a6a6a" stroke-width="0.6" />
<text x="0.00" y="0.00" font-size="7.1" text-anchor="middle" font-weight="normal" font-style="normal" fill="#444" color="#444" style="stroke-width:0.08px" transform="translate(177.20,230) scale(0.9,1)">1200</text>
<line x1="198.10" y1="221.50" x2="198.10" y2="219.50" stroke="#6a6a6a" stroke-width="0.6" />
<line x1="198.10" y1="60.50" x2="198.10" y2="62.50" stroke="#6a6a6a" stroke-width="0.6" />
<text x="0.00" y="0.00" font-size="7.1" text-anchor="middle" font-weight="normal" font-style="normal" fill="#444" color="#444" style="stroke-width:0.08px" transform="translate(198.50,230) scale(0.9,1)">1400</text>
<line x1="219.40" y1="221.50" x2="219.40" y2="219.50" stroke="#6a6a6a" stroke-width="0.6" />
<line x1="219.40" y1="60.50" x2="219.40" y2="62.50" stroke="#6a6a6a" stroke-width="0.6" />
<text x="0.00" y="0.00" font-size="7.1" text-anchor="middle" font-weight="normal" font-style="normal" fill="#444" color="#444" style="stroke-width:0.08px" transform="translate(219.80,230) scale(0.9,1)">1600</text>
<line x1="240.70" y1="221.50" x2="240.70" y2="219.50" stroke="#6a6a6a" stroke-width="0.6" />
<line x1="240.70" y1="60.50" x2="240.70" y2="62.50" stroke="#6a6a6a" stroke-width="0.6" />
<text x="0.00" y="0.00" font-size="7.1" text-anchor="middle" font-weight="normal" font-style="normal" fill="#444" color="#444" style="stroke-width:0.08px" transform="translate(241.10,230) scale(0.9,1)">1800</text>
<line x1="262.00" y1="221.50" x2="262.00" y2="219.50" stroke="#6a6a6a" stroke-width="0.6" />
<line x1="262.00" y1="60.50" x2="262.00" y2="62.50" stroke="#6a6a6a" stroke-width="0.6" />
<text x="0.00" y="0.00" font-size="7.1" text-anchor="middle" font-weight="normal" font-style="normal" fill="#444" color="#444" style="stroke-width:0.08px" transform="translate(262.40,230) scale(0.9,1)">2000</text>
<text x="155.60" y="238.50" font-size="7.4" text-anchor="middle" font-weight="normal" font-style="normal" fill="#222" color="#222" >Time</text>
<text x="0.00" y="0.00" font-size="7.2" text-anchor="middle" font-weight="normal" font-style="normal" fill="#222" color="#222" style="stroke-width:0.1px" transform="translate(36.9,141) rotate(-90)">First order difference of queue length</text>
<text x="411.00" y="47.90" font-size="8.5" text-anchor="middle" font-weight="normal" font-style="normal" fill="#1a1a1a" color="#1a1a1a" >Better time series prediction</text>
<polyline points="317.60,63.80 331.42,156.50 332.40,160.80 334.20,166.60 336.30,172.00 338.50,176.40 340.80,179.20 343.00,180.20 343.80,179.26 344.50,179.01 345.20,178.89 345.90,180.07 346.60,180.18 347.30,180.68 348.00,180.63 348.70,180.66 349.40,179.22 350.10,178.99 350.80,179.23 351.50,179.21 352.20,179.70 352.90,179.94 353.60,180.04 354.30,180.35 355.00,180.57 355.70,180.07 356.40,180.13 357.10,180.41 357.80,180.66 358.50,180.51 359.20,180.72 359.90,181.22 360.60,180.88 361.30,180.28 362.00,180.77 362.70,181.15 363.40,180.98 364.10,181.60 364.80,180.90 365.50,181.07 366.20,180.66 366.90,180.10 367.60,179.97 368.30,181.12 369.00,180.65 369.70,180.62 370.40,181.17 371.10,181.07 371.80,181.30 372.50,181.69 373.20,182.11 373.90,182.46 374.60,182.42 375.30,181.67 376.00,181.63 376.70,181.76 377.40,181.34 378.10,181.15 378.80,181.47 379.50,180.44 380.20,180.43 380.90,180.61 381.60,180.28 382.30,180.18 383.00,180.63 383.70,180.60 384.40,179.74 385.10,179.93 385.80,180.09 386.50,180.73 387.20,179.74 387.90,180.19 388.60,180.54 389.30,180.07 390.00,180.17 390.70,180.58 391.40,180.95 392.10,180.61 392.80,181.35 393.50,180.93 394.20,181.30 394.90,180.73 395.60,181.71 396.30,181.60 397.00,181.95 397.70,182.53 398.40,183.30 399.10,182.65 399.80,182.25 400.50,181.85 401.20,182.02 401.90,181.54 402.60,181.57 403.30,181.74 404.00,182.07 404.70,181.83 405.40,181.91 406.10,181.55 406.80,181.66 407.50,181.99 408.20,182.06 408.90,182.54 409.60,183.00 410.30,183.11 411.00,182.65 411.70,182.68 412.40,182.36 413.10,182.51 413.80,182.39 414.50,182.66 415.20,182.48 415.90,183.56 416.60,184.01 417.30,184.47 418.00,183.49 418.70,183.16 419.40,181.99 420.10,181.53 420.80,180.16 421.50,181.05 422.20,181.35 422.90,180.98 423.60,180.34 424.30,180.67 425.00,180.17 425.70,179.89 426.40,180.83 427.10,180.94 427.80,181.30 428.50,181.20 429.20,181.42 429.90,180.86 430.60,181.54 431.30,181.18 432.00,181.30 432.70,180.71 433.40,181.19 434.10,181.19 434.80,181.67 435.50,181.82 436.20,182.42 436.90,181.75 437.60,181.28 438.30,181.57 439.00,182.55 439.70,182.35 440.40,182.44 441.10,182.40 441.80,181.86 442.50,181.28 443.20,181.67 443.90,181.89 444.60,182.41 445.30,182.92 446.00,182.84 446.70,182.11 447.40,182.00 448.10,181.97 448.80,181.72 449.50,181.56 450.20,181.81 450.90,181.83 451.60,182.04 452.30,182.14 453.00,182.22 453.70,182.73 454.40,183.02 455.10,183.27 455.80,182.70 456.50,183.00 457.20,182.56 457.90,182.37 458.60,182.07 459.30,183.07 460.00,183.11 460.70,183.29 461.40,183.74 462.10,183.35 462.80,182.87 463.50,182.71 464.20,182.40 464.90,182.49 465.60,182.83 466.30,183.49 467.00,183.14 467.70,183.11 468.40,182.38 469.10,182.21 469.80,181.23 470.50,181.28 471.20,181.31 471.90,181.70 472.60,181.09 473.30,181.46 474.00,180.96 474.70,180.50 475.40,179.58 476.10,179.25 476.80,178.80 477.50,179.17 478.20,179.48 478.90,180.13 479.60,181.26 480.30,181.52 481.00,181.47 481.70,181.55 482.40,181.05 483.10,180.99 483.80,180.56 484.50,180.93 485.20,181.18 485.90,182.10 486.60,181.88 487.30,182.22 488.00,182.17 488.70,182.03 489.40,181.65 490.10,181.73 490.80,181.99 491.50,181.86 492.20,181.82 492.90,181.85 493.60,181.19 494.30,181.23 495.00,180.95 495.70,181.36 496.40,181.62 497.10,181.47 497.80,181.36 498.50,181.50 499.20,180.59 499.90,180.14 500.60,180.41 501.30,179.59 502.00,179.33 502.70,179.41 503.40,179.38 504.10,179.49 504.80,180.60 505.50,181.28 506.20,181.30 506.90,181.62 507.60,182.07" fill="none" stroke="#45a3d8" stroke-width="1.25" stroke-linejoin="round"/>
<polyline points="317.60,63.80 337.31,196.00 339.00,197.00 340.50,195.50 341.50,190.50 343.00,188.00 345.00,186.40 350.00,185.40 350.80,185.91 351.50,185.99 352.20,185.12 352.90,185.57 353.60,185.29 354.30,185.19 355.00,184.75 355.70,184.78 356.40,184.42 357.10,184.60 357.80,184.69 358.50,185.11 359.20,185.36 359.90,185.16 360.60,185.08 361.30,184.99 362.00,184.65 362.70,184.60 363.40,184.85 364.10,184.66 364.80,184.40 365.50,184.54 366.20,184.77 366.90,184.38 367.60,184.26 368.30,184.26 369.00,184.33 369.70,183.43 370.40,183.51 371.10,183.76 371.80,183.56 372.50,183.58 373.20,184.08 373.90,183.82 374.60,183.55 375.30,183.34 376.00,182.82 376.70,183.07 377.40,182.95 378.10,183.28 378.80,183.57 379.50,183.88 380.20,183.44 380.90,183.15 381.60,182.61 382.30,182.69 383.00,182.22 383.70,181.91 384.40,182.53 385.10,182.53 385.80,182.12 386.50,182.24 387.20,182.77 387.90,182.59 388.60,182.97 389.30,183.73 390.00,183.91 390.70,183.47 391.40,183.30 392.10,183.10 392.80,182.96 393.50,183.04 394.20,183.44 394.90,183.65 395.60,183.75 396.30,183.45 397.00,183.33 397.70,182.93 398.40,182.69 399.10,182.52 399.80,182.40 400.50,182.26 401.20,182.72 401.90,183.06 402.60,183.85 403.30,184.33 404.00,184.41 404.70,184.44 405.40,184.55 406.10,183.73 406.80,183.78 407.50,183.75 408.20,182.88 408.90,182.99 409.60,183.01 410.30,183.10 411.00,183.14 411.70,183.58 412.40,183.76 413.10,183.66 413.80,183.37 414.50,183.86 415.20,184.17 415.90,183.80 416.60,184.08 417.30,184.23 418.00,183.72 418.70,183.84 419.40,184.00 420.10,184.52 420.80,184.25 421.50,184.24 422.20,184.27 422.90,184.06 423.60,183.59 424.30,183.71 425.00,184.19 425.70,183.88 426.40,183.96 427.10,183.31 427.80,183.08 428.50,183.17 429.20,183.18 429.90,183.04 430.60,183.34 431.30,183.68 432.00,183.36 432.70,183.23 433.40,183.54 434.10,183.87 434.80,183.91 435.50,183.71 436.20,184.38 436.90,184.31 437.60,184.22 438.30,183.92 439.00,184.00 439.70,183.79 440.40,183.63 441.10,183.90 441.80,184.14 442.50,184.50 443.20,184.48 443.90,184.52 444.60,183.83 445.30,183.76 446.00,183.62 446.70,183.47 447.40,183.60 448.10,183.93 448.80,183.76 449.50,183.36 450.20,183.63 450.90,183.53 451.60,183.52 452.30,183.29 453.00,183.46 453.70,183.48 454.40,183.54 455.10,183.48 455.80,184.11 456.50,184.46 457.20,184.35 457.90,184.42 458.60,184.84 459.30,184.63 460.00,184.48 460.70,184.06 461.40,184.22 462.10,184.00 462.80,184.33 463.50,183.68 464.20,184.01 464.90,183.89 465.60,183.75 466.30,183.38 467.00,184.02 467.70,183.98 468.40,183.62 469.10,183.66 469.80,183.78 470.50,183.91 471.20,183.80 471.90,183.95 472.60,184.03 473.30,184.04 474.00,183.50 474.70,183.18 475.40,183.19 476.10,182.90 476.80,182.53 477.50,182.79 478.20,183.21 478.90,182.94 479.60,183.39 480.30,183.12 481.00,183.23 481.70,182.76 482.40,182.71 483.10,182.68 483.80,183.00 484.50,182.69 485.20,182.96 485.90,183.36 486.60,183.21 487.30,183.30 488.00,183.73 488.70,183.67 489.40,183.45 490.10,183.35 490.80,183.63 491.50,183.62 492.20,184.08 492.90,184.19 493.60,184.28 494.30,184.21 495.00,183.89 495.70,183.79 496.40,183.97 497.10,183.85 497.80,183.64 498.50,183.70 499.20,183.92 499.90,184.35 500.60,184.49 501.30,184.52 502.00,184.02 502.70,183.68 503.40,183.08 504.10,182.86 504.80,183.04 505.50,183.21 506.20,183.12 506.90,183.12 507.60,183.37" fill="none" stroke="#d98bd9" stroke-width="1.2" stroke-linejoin="round"/>
<polyline points="317.60,63.80 338.32,202.80 341.00,202.74 341.70,202.94 342.40,202.52 343.10,202.06 343.80,202.46 344.50,202.17 345.20,201.53 345.90,201.74 346.60,202.01 347.30,201.75 348.00,201.90 348.70,202.24 349.40,202.70 350.10,203.00 350.80,203.15 351.50,203.14 352.20,203.31 352.90,202.98 353.60,202.25 354.30,202.23 355.00,201.91 355.70,201.92 356.40,201.70 357.10,202.08 357.80,201.88 358.50,202.22 359.20,201.79 359.90,201.63 360.60,201.53 361.30,201.30 362.00,200.87 362.70,200.79 363.40,200.89 364.10,201.26 364.80,201.23 365.50,201.16 366.20,201.07 366.90,201.13 367.60,200.31 368.30,200.20 369.00,200.14 369.70,200.29 370.40,200.07 371.10,200.20 371.80,200.12 372.50,200.22 373.20,200.41 373.90,200.47 374.60,200.60 375.30,200.89 376.00,200.49 376.70,200.01 377.40,199.82 378.10,199.81 378.80,199.65 379.50,199.54 380.20,199.89 380.90,200.42 381.60,200.32 382.30,200.47 383.00,200.88 383.70,200.83 384.40,200.07 385.10,200.58 385.80,200.40 386.50,200.69 387.20,200.55 387.90,200.87 388.60,200.46 389.30,200.84 390.00,200.34 390.70,200.27 391.40,200.28 392.10,199.92 392.80,200.06 393.50,200.47 394.20,200.60 394.90,201.05 395.60,201.28 396.30,200.97 397.00,201.30 397.70,201.59 398.40,200.77 399.10,200.21 399.80,200.00 400.50,199.84 401.20,199.46 401.90,199.96 402.60,200.95 403.30,200.97 404.00,200.75 404.70,201.06 405.40,201.22 406.10,201.16 406.80,201.22 407.50,201.28 408.20,200.96 408.90,201.17 409.60,201.71 410.30,201.66 411.00,200.97 411.70,200.96 412.40,200.71 413.10,200.32 413.80,200.77 414.50,201.11 415.20,201.01 415.90,201.22 416.60,200.67 417.30,200.66 418.00,200.79 418.70,201.18 419.40,201.02 420.10,201.47 420.80,201.32 421.50,201.03 422.20,200.82 422.90,200.56 423.60,200.35 424.30,200.36 425.00,200.45 425.70,200.10 426.40,199.83 427.10,199.58 427.80,199.36 428.50,199.14 429.20,199.52 429.90,199.69 430.60,199.72 431.30,199.23 432.00,199.53 432.70,199.44 433.40,198.95 434.10,199.35 434.80,200.13 435.50,200.19 436.20,200.17 436.90,201.26 437.60,201.30 438.30,200.69 439.00,200.64 439.70,200.50 440.40,199.89 441.10,199.01 441.80,199.46 442.50,199.34 443.20,199.45 443.90,199.49 444.60,200.34 445.30,200.11 446.00,200.10 446.70,200.22 447.40,200.65 448.10,200.38 448.80,200.83 449.50,201.13 450.20,200.90 450.90,200.96 451.60,200.86 452.30,200.81 453.00,200.65 453.70,200.93 454.40,200.26 455.10,200.29 455.80,200.34 456.50,200.54 457.20,200.47 457.90,200.71 458.60,201.06 459.30,200.47 460.00,200.17 460.70,200.12 461.40,200.02 462.10,199.73 462.80,200.06 463.50,200.30 464.20,200.28 464.90,200.91 465.60,201.34 466.30,201.67 467.00,201.70 467.70,201.62 468.40,200.83 469.10,200.48 469.80,199.64 470.50,199.50 471.20,199.81 471.90,200.59 472.60,200.92 473.30,201.23 474.00,201.49 474.70,201.10 475.40,200.89 476.10,200.62 476.80,201.05 477.50,201.57 478.20,202.00 478.90,202.38 479.60,202.45 480.30,202.15 481.00,201.83 481.70,202.03 482.40,201.30 483.10,201.27 483.80,200.99 484.50,200.60 485.20,200.38 485.90,200.50 486.60,200.33 487.30,200.34 488.00,200.48 488.70,200.45 489.40,200.62 490.10,200.83 490.80,200.86 491.50,201.21 492.20,200.99 492.90,200.80 493.60,200.91 494.30,200.69 495.00,200.22 495.70,200.20 496.40,200.33 497.10,200.48 497.80,201.14 498.50,200.69 499.20,200.64 499.90,200.59 500.60,200.29 501.30,199.84 502.00,199.88 502.70,200.10 503.40,200.13 504.10,200.09 504.80,199.97 505.50,200.84 506.20,199.96 506.90,199.87 507.60,199.88" fill="none" stroke="#efe56a" stroke-width="1.2" stroke-linejoin="round"/>
<polyline points="317.60,63.80 339.03,207.60 341.00,208.33 341.70,208.34 342.40,207.95 343.10,208.37 343.80,207.37 344.50,207.43 345.20,207.34 345.90,207.32 346.60,207.13 347.30,207.03 348.00,206.71 348.70,206.61 349.40,206.72 350.10,206.55 350.80,207.13 351.50,207.18 352.20,206.98 352.90,206.89 353.60,206.60 354.30,206.51 355.00,206.47 355.70,207.04 356.40,207.47 357.10,207.64 357.80,207.96 358.50,208.05 359.20,208.24 359.90,208.99 360.60,208.89 361.30,208.56 362.00,208.33 362.70,208.11 363.40,207.21 364.10,207.33 364.80,207.12 365.50,207.51 366.20,208.01 366.90,208.42 367.60,208.62 368.30,208.68 369.00,208.50 369.70,207.75 370.40,207.09 371.10,206.85 371.80,207.24 372.50,207.36 373.20,207.36 373.90,208.23 374.60,208.01 375.30,207.39 376.00,207.02 376.70,206.99 377.40,206.56 378.10,207.33 378.80,207.53 379.50,207.68 380.20,207.87 380.90,207.97 381.60,207.04 382.30,207.22 383.00,207.79 383.70,208.14 384.40,208.46 385.10,208.67 385.80,208.26 386.50,208.52 387.20,208.82 387.90,208.33 388.60,208.83 389.30,209.40 390.00,209.29 390.70,208.99 391.40,209.22 392.10,209.16 392.80,209.14 393.50,208.92 394.20,208.30 394.90,207.55 395.60,207.23 396.30,206.68 397.00,206.70 397.70,207.36 398.40,208.20 399.10,208.26 399.80,208.67 400.50,208.93 401.20,208.56 401.90,208.77 402.60,209.09 403.30,209.18 404.00,209.28 404.70,209.31 405.40,209.35 406.10,208.92 406.80,208.67 407.50,208.00 408.20,208.35 408.90,207.86 409.60,208.16 410.30,208.08 411.00,208.70 411.70,209.11 412.40,209.46 413.10,209.93 413.80,210.42 414.50,210.76 415.20,210.30 415.90,209.84 416.60,209.82 417.30,209.66 418.00,208.80 418.70,208.62 419.40,208.64 420.10,208.20 420.80,207.92 421.50,208.59 422.20,208.93 422.90,208.90 423.60,208.50 424.30,208.62 425.00,207.65 425.70,207.42 426.40,207.84 427.10,208.02 427.80,208.00 428.50,208.65 429.20,209.05 429.90,209.45 430.60,209.65 431.30,210.01 432.00,209.65 432.70,209.35 433.40,208.64 434.10,208.81 434.80,208.21 435.50,208.13 436.20,207.99 436.90,208.38 437.60,207.76 438.30,207.93 439.00,208.21 439.70,208.25 440.40,207.84 441.10,208.24 441.80,208.30 442.50,208.62 443.20,208.69 443.90,208.53 444.60,207.87 445.30,207.95 446.00,207.87 446.70,207.74 447.40,208.32 448.10,208.77 448.80,208.35 449.50,208.20 450.20,208.19 450.90,208.21 451.60,208.03 452.30,208.53 453.00,208.22 453.70,208.49 454.40,208.22 455.10,208.50 455.80,208.36 456.50,208.96 457.20,208.82 457.90,208.84 458.60,208.80 459.30,208.74 460.00,208.87 460.70,208.44 461.40,208.48 462.10,209.01 462.80,209.70 463.50,209.33 464.20,210.12 464.90,210.64 465.60,210.81 466.30,210.57 467.00,211.14 467.70,211.05 468.40,211.34 469.10,210.84 469.80,211.17 470.50,210.44 471.20,210.05 471.90,209.84 472.60,209.99 473.30,209.93 474.00,210.06 474.70,210.99 475.40,210.85 476.10,210.71 476.80,210.58 477.50,211.06 478.20,210.35 478.90,210.43 479.60,211.25 480.30,211.38 481.00,211.08 481.70,211.07 482.40,211.03 483.10,209.99 483.80,208.85 484.50,208.61 485.20,208.41 485.90,208.67 486.60,209.07 487.30,209.58 488.00,209.38 488.70,209.76 489.40,208.99 490.10,208.73 490.80,208.97 491.50,209.31 492.20,209.19 492.90,209.45 493.60,209.96 494.30,210.45 495.00,209.96 495.70,210.64 496.40,210.64 497.10,210.62 497.80,209.93 498.50,210.47 499.20,209.81 499.90,209.80 500.60,209.69 501.30,210.06 502.00,209.68 502.70,209.58 503.40,209.75 504.10,209.69 504.80,209.42 505.50,209.61 506.20,209.59 506.90,209.36 507.60,209.15" fill="none" stroke="#3cc43c" stroke-width="1.15" stroke-linejoin="round"/>
<polyline points="317.60,63.80 340.60,218.10 341.50,217.80 345.00,216.70 345.90,217.27 346.60,217.13 347.30,217.11 348.00,216.76 348.70,216.46 349.40,216.51 350.10,216.63 350.80,216.01 351.50,215.58 352.20,215.35 352.90,214.62 353.60,214.40 354.30,214.00 355.00,213.39 355.70,213.80 356.40,213.73 357.10,213.40 357.80,213.19 358.50,213.56 359.20,213.26 359.90,213.33 360.60,213.65 361.30,213.41 362.00,213.10 362.70,212.69 363.40,212.59 364.10,212.46 364.80,212.28 365.50,213.12 366.20,212.98 366.90,213.03 367.60,213.07 368.30,213.76 369.00,212.99 369.70,212.43 370.40,212.08 371.10,212.12 371.80,211.73 372.50,211.45 373.20,211.65 373.90,212.28 374.60,212.27 375.30,212.33 376.00,212.62 376.70,213.24 377.40,212.71 378.10,212.56 378.80,212.90 379.50,213.13 380.20,213.53 380.90,213.87 381.60,213.88 382.30,213.97 383.00,213.73 383.70,213.14 384.40,213.48 385.10,213.56 385.80,213.54 386.50,213.92 387.20,214.01 387.90,213.94 388.60,214.20 389.30,214.20 390.00,214.20 390.70,214.23 391.40,213.45 392.10,213.21 392.80,212.95 393.50,213.01 394.20,213.21 394.90,213.58 395.60,213.61 396.30,214.13 397.00,214.14 397.70,214.11 398.40,214.29 399.10,214.16 399.80,213.72 400.50,213.53 401.20,213.35 401.90,213.26 402.60,212.99 403.30,212.55 404.00,211.91 404.70,211.78 405.40,211.98 406.10,212.51 406.80,212.62 407.50,212.60 408.20,212.85 408.90,212.58 409.60,211.88 410.30,212.37 411.00,212.80 411.70,212.94 412.40,212.91 413.10,213.48 413.80,213.29 414.50,213.01 415.20,212.61 415.90,212.35 416.60,212.34 417.30,212.01 418.00,211.86 418.70,212.09 419.40,212.55 420.10,212.71 420.80,213.23 421.50,213.24 422.20,212.89 422.90,212.46 423.60,212.09 424.30,211.27 425.00,211.65 425.70,211.89 426.40,211.79 427.10,211.83 427.80,212.67 428.50,212.69 429.20,212.88 429.90,213.38 430.60,213.47 431.30,213.27 432.00,213.18 432.70,213.24 433.40,212.87 434.10,212.60 434.80,212.70 435.50,212.62 436.20,212.42 436.90,212.82 437.60,213.03 438.30,212.89 439.00,213.32 439.70,213.41 440.40,212.77 441.10,212.43 441.80,212.75 442.50,212.63 443.20,211.92 443.90,211.99 444.60,212.34 445.30,211.76 446.00,211.79 446.70,212.35 447.40,212.83 448.10,212.54 448.80,212.96 449.50,213.35 450.20,213.14 450.90,213.36 451.60,213.92 452.30,213.94 453.00,213.43 453.70,213.35 454.40,212.81 455.10,212.77 455.80,212.87 456.50,213.20 457.20,213.75 457.90,214.22 458.60,213.92 459.30,213.38 460.00,213.14 460.70,213.11 461.40,213.00 462.10,212.82 462.80,213.09 463.50,212.76 464.20,212.76 464.90,212.57 465.60,213.00 466.30,213.31 467.00,213.81 467.70,214.21 468.40,214.29 469.10,213.88 469.80,214.13 470.50,214.54 471.20,214.65 471.90,215.10 472.60,215.88 473.30,215.76 474.00,215.18 474.70,214.76 475.40,214.81 476.10,214.44 476.80,214.81 477.50,214.67 478.20,214.62 478.90,214.69 479.60,214.60 480.30,213.74 481.00,213.71 481.70,213.55 482.40,213.56 483.10,213.74 483.80,214.07 484.50,214.20 485.20,214.51 485.90,214.08 486.60,213.66 487.30,213.33 488.00,213.43 488.70,213.42 489.40,213.30 490.10,213.59 490.80,214.23 491.50,213.99 492.20,213.39 492.90,213.66 493.60,213.66 494.30,213.14 495.00,213.42 495.70,213.66 496.40,213.56 497.10,213.37 497.80,213.61 498.50,213.26 499.20,213.15 499.90,213.06 500.60,213.04 501.30,213.03 502.00,213.33 502.70,213.41 503.40,213.44 504.10,213.44 504.80,212.88 505.50,212.62 506.20,212.57 506.90,212.52 507.60,212.64" fill="none" stroke="#e6c435" stroke-width="1.7" stroke-linejoin="round"/>
<line x1="317.6" y1="63.8" x2="338.35" y2="203" stroke="#ecde86" stroke-width="2.3"/>
<line x1="317.6" y1="63.8" x2="338.35" y2="203" stroke="#f3e9a8" stroke-width="0.9"/>
<rect x="317.6" y="59.6" width="189.89999999999998" height="162.0" fill="none" stroke="#6a6a6a" stroke-width="0.6"/>
<line x1="317.60" y1="59.60" x2="319.60" y2="59.60" stroke="#6a6a6a" stroke-width="0.6" />
<line x1="507.50" y1="59.60" x2="505.50" y2="59.60" stroke="#6a6a6a" stroke-width="0.6" />
<text x="313.80" y="62.20" font-size="7.8" text-anchor="end" font-weight="normal" font-style="normal" fill="#444" color="#444" style="stroke-width:0.08px" >0</text>
<line x1="317.60" y1="86.60" x2="319.60" y2="86.60" stroke="#6a6a6a" stroke-width="0.6" />
<line x1="507.50" y1="86.60" x2="505.50" y2="86.60" stroke="#6a6a6a" stroke-width="0.6" />
<text x="313.80" y="89.20" font-size="7.8" text-anchor="end" font-weight="normal" font-style="normal" fill="#444" color="#444" style="stroke-width:0.08px" >-5</text>
<line x1="317.60" y1="113.60" x2="319.60" y2="113.60" stroke="#6a6a6a" stroke-width="0.6" />
<line x1="507.50" y1="113.60" x2="505.50" y2="113.60" stroke="#6a6a6a" stroke-width="0.6" />
<text x="313.80" y="116.20" font-size="7.8" text-anchor="end" font-weight="normal" font-style="normal" fill="#444" color="#444" style="stroke-width:0.08px" >-10</text>
<line x1="317.60" y1="140.60" x2="319.60" y2="140.60" stroke="#6a6a6a" stroke-width="0.6" />
<line x1="507.50" y1="140.60" x2="505.50" y2="140.60" stroke="#6a6a6a" stroke-width="0.6" />
<text x="313.80" y="143.20" font-size="7.8" text-anchor="end" font-weight="normal" font-style="normal" fill="#444" color="#444" style="stroke-width:0.08px" >-15</text>
<line x1="317.60" y1="167.60" x2="319.60" y2="167.60" stroke="#6a6a6a" stroke-width="0.6" />
<line x1="507.50" y1="167.60" x2="505.50" y2="167.60" stroke="#6a6a6a" stroke-width="0.6" />
<text x="313.80" y="170.20" font-size="7.8" text-anchor="end" font-weight="normal" font-style="normal" fill="#444" color="#444" style="stroke-width:0.08px" >-20</text>
<line x1="317.60" y1="194.60" x2="319.60" y2="194.60" stroke="#6a6a6a" stroke-width="0.6" />
<line x1="507.50" y1="194.60" x2="505.50" y2="194.60" stroke="#6a6a6a" stroke-width="0.6" />
<text x="313.80" y="197.20" font-size="7.8" text-anchor="end" font-weight="normal" font-style="normal" fill="#444" color="#444" style="stroke-width:0.08px" >-25</text>
<line x1="317.60" y1="221.60" x2="319.60" y2="221.60" stroke="#6a6a6a" stroke-width="0.6" />
<line x1="507.50" y1="221.60" x2="505.50" y2="221.60" stroke="#6a6a6a" stroke-width="0.6" />
<text x="313.80" y="224.20" font-size="7.8" text-anchor="end" font-weight="normal" font-style="normal" fill="#444" color="#444" style="stroke-width:0.08px" >-30</text>
<line x1="317.60" y1="221.60" x2="317.60" y2="219.60" stroke="#6a6a6a" stroke-width="0.6" />
<line x1="317.60" y1="59.60" x2="317.60" y2="61.60" stroke="#6a6a6a" stroke-width="0.6" />
<text x="317.60" y="232.00" font-size="7.8" text-anchor="middle" font-weight="normal" font-style="normal" fill="#444" color="#444" style="stroke-width:0.08px" >0</text>
<line x1="355.58" y1="221.60" x2="355.58" y2="219.60" stroke="#6a6a6a" stroke-width="0.6" />
<line x1="355.58" y1="59.60" x2="355.58" y2="61.60" stroke="#6a6a6a" stroke-width="0.6" />
<text x="355.58" y="232.00" font-size="7.8" text-anchor="middle" font-weight="normal" font-style="normal" fill="#444" color="#444" style="stroke-width:0.08px" >1000</text>
<line x1="393.56" y1="221.60" x2="393.56" y2="219.60" stroke="#6a6a6a" stroke-width="0.6" />
<line x1="393.56" y1="59.60" x2="393.56" y2="61.60" stroke="#6a6a6a" stroke-width="0.6" />
<text x="393.56" y="232.00" font-size="7.8" text-anchor="middle" font-weight="normal" font-style="normal" fill="#444" color="#444" style="stroke-width:0.08px" >2000</text>
<line x1="431.54" y1="221.60" x2="431.54" y2="219.60" stroke="#6a6a6a" stroke-width="0.6" />
<line x1="431.54" y1="59.60" x2="431.54" y2="61.60" stroke="#6a6a6a" stroke-width="0.6" />
<text x="431.54" y="232.00" font-size="7.8" text-anchor="middle" font-weight="normal" font-style="normal" fill="#444" color="#444" style="stroke-width:0.08px" >3000</text>
<line x1="469.52" y1="221.60" x2="469.52" y2="219.60" stroke="#6a6a6a" stroke-width="0.6" />
<line x1="469.52" y1="59.60" x2="469.52" y2="61.60" stroke="#6a6a6a" stroke-width="0.6" />
<text x="469.52" y="232.00" font-size="7.8" text-anchor="middle" font-weight="normal" font-style="normal" fill="#444" color="#444" style="stroke-width:0.08px" >4000</text>
<line x1="507.50" y1="221.60" x2="507.50" y2="219.60" stroke="#6a6a6a" stroke-width="0.6" />
<line x1="507.50" y1="59.60" x2="507.50" y2="61.60" stroke="#6a6a6a" stroke-width="0.6" />
<text x="507.50" y="232.00" font-size="7.8" text-anchor="middle" font-weight="normal" font-style="normal" fill="#444" color="#444" style="stroke-width:0.08px" >5000</text>
<text x="412.30" y="242.80" font-size="8.36" text-anchor="middle" font-weight="normal" font-style="normal" fill="#222" color="#222" >iteration(n)</text>
<text x="0.00" y="0.00" font-size="8.45" text-anchor="middle" font-weight="normal" font-style="normal" fill="#222" color="#222" transform="translate(301.0,141) rotate(-90)">MSD(dB)</text>
<line x1="340.4" y1="103.4" x2="331.0" y2="109.3" stroke="#1c22b0" stroke-width="1.15"/>
<polygon points="327.2,111.7 332.6,105.8 334.6,110.2" fill="#1c22b0"/>
<rect x="351.4" y="79.4" width="76.90000000000003" height="62.0" fill="#fff" stroke="#6a6a6a" stroke-width="0.6"/>
<line x1="386" y1="79.4" x2="394.4" y2="141.4" stroke="#ebc94e" stroke-width="2.6"/>
<line x1="386" y1="79.4" x2="394.4" y2="141.4" stroke="#f2dc7a" stroke-width="1.5"/>
<line x1="386" y1="79.4" x2="394.4" y2="141.4" stroke="#eab4cc" stroke-width="0.5"/>
<line x1="351.40" y1="88.80" x2="353.00" y2="88.80" stroke="#6a6a6a" stroke-width="0.6" />
<line x1="428.30" y1="88.80" x2="426.70" y2="88.80" stroke="#6a6a6a" stroke-width="0.6" />
<text x="348.30" y="91.30" font-size="7.3" text-anchor="end" font-weight="normal" font-style="normal" fill="#444" color="#444" style="stroke-width:0.08px" >-9</text>
<line x1="351.40" y1="99.50" x2="353.00" y2="99.50" stroke="#6a6a6a" stroke-width="0.6" />
<line x1="428.30" y1="99.50" x2="426.70" y2="99.50" stroke="#6a6a6a" stroke-width="0.6" />
<text x="348.30" y="102.00" font-size="7.3" text-anchor="end" font-weight="normal" font-style="normal" fill="#444" color="#444" style="stroke-width:0.08px" >-10</text>
<line x1="351.40" y1="110.60" x2="353.00" y2="110.60" stroke="#6a6a6a" stroke-width="0.6" />
<line x1="428.30" y1="110.60" x2="426.70" y2="110.60" stroke="#6a6a6a" stroke-width="0.6" />
<text x="348.30" y="113.10" font-size="7.3" text-anchor="end" font-weight="normal" font-style="normal" fill="#444" color="#444" style="stroke-width:0.08px" >-11</text>
<line x1="351.40" y1="121.30" x2="353.00" y2="121.30" stroke="#6a6a6a" stroke-width="0.6" />
<line x1="428.30" y1="121.30" x2="426.70" y2="121.30" stroke="#6a6a6a" stroke-width="0.6" />
<text x="348.30" y="123.80" font-size="7.3" text-anchor="end" font-weight="normal" font-style="normal" fill="#444" color="#444" style="stroke-width:0.08px" >-12</text>
<line x1="351.40" y1="132.20" x2="353.00" y2="132.20" stroke="#6a6a6a" stroke-width="0.6" />
<line x1="428.30" y1="132.20" x2="426.70" y2="132.20" stroke="#6a6a6a" stroke-width="0.6" />
<text x="348.30" y="134.70" font-size="7.3" text-anchor="end" font-weight="normal" font-style="normal" fill="#444" color="#444" style="stroke-width:0.08px" >-13</text>
<line x1="358.00" y1="141.40" x2="358.00" y2="139.80" stroke="#6a6a6a" stroke-width="0.6" />
<line x1="358.00" y1="79.40" x2="358.00" y2="81.00" stroke="#6a6a6a" stroke-width="0.6" />
<text x="358.00" y="151.30" font-size="7.3" text-anchor="middle" font-weight="normal" font-style="normal" fill="#444" color="#444" style="stroke-width:0.08px" >-200</text>
<line x1="373.40" y1="141.40" x2="373.40" y2="139.80" stroke="#6a6a6a" stroke-width="0.6" />
<line x1="373.40" y1="79.40" x2="373.40" y2="81.00" stroke="#6a6a6a" stroke-width="0.6" />
<text x="373.40" y="151.30" font-size="7.3" text-anchor="middle" font-weight="normal" font-style="normal" fill="#444" color="#444" style="stroke-width:0.08px" >0</text>
<line x1="388.40" y1="141.40" x2="388.40" y2="139.80" stroke="#6a6a6a" stroke-width="0.6" />
<line x1="388.40" y1="79.40" x2="388.40" y2="81.00" stroke="#6a6a6a" stroke-width="0.6" />
<text x="388.40" y="151.30" font-size="7.3" text-anchor="middle" font-weight="normal" font-style="normal" fill="#444" color="#444" style="stroke-width:0.08px" >200</text>
<line x1="403.60" y1="141.40" x2="403.60" y2="139.80" stroke="#6a6a6a" stroke-width="0.6" />
<line x1="403.60" y1="79.40" x2="403.60" y2="81.00" stroke="#6a6a6a" stroke-width="0.6" />
<text x="403.60" y="151.30" font-size="7.3" text-anchor="middle" font-weight="normal" font-style="normal" fill="#444" color="#444" style="stroke-width:0.08px" >400</text>
<line x1="418.70" y1="141.40" x2="418.70" y2="139.80" stroke="#6a6a6a" stroke-width="0.6" />
<line x1="418.70" y1="79.40" x2="418.70" y2="81.00" stroke="#6a6a6a" stroke-width="0.6" />
<text x="418.70" y="151.30" font-size="7.3" text-anchor="middle" font-weight="normal" font-style="normal" fill="#444" color="#444" style="stroke-width:0.08px" >600</text>
<rect x="434.9" y="65.1" width="67.7" height="43.8" fill="#fff" stroke="#999" stroke-width="0.7"/>
<line x1="436.20" y1="69.60" x2="448.00" y2="69.60" stroke="#a8d4ea" stroke-width="1.7" />
<text x="449.40" y="72.30" font-size="7.15" text-anchor="start" font-weight="normal" font-style="normal" fill="#1a1a1a" color="#1a1a1a" >MCC,<tspan font-style="italic">σ</tspan>=0.2</text>
<line x1="436.20" y1="78.10" x2="448.00" y2="78.10" stroke="#38b848" stroke-width="1.1" stroke-dasharray="4.2 3"/>
<text x="449.40" y="80.80" font-size="7.15" text-anchor="start" font-weight="normal" font-style="normal" fill="#1a1a1a" color="#1a1a1a" >MACC,<tspan font-style="italic">σ</tspan>=0.1,0.2</text>
<line x1="436.20" y1="86.60" x2="448.00" y2="86.60" stroke="#e8b6e8" stroke-width="1.7" />
<text x="449.40" y="89.30" font-size="7.15" text-anchor="start" font-weight="normal" font-style="normal" fill="#1a1a1a" color="#1a1a1a" >GMACC,<tspan font-style="italic">α</tspan>=1.5</text>
<line x1="436.20" y1="95.10" x2="448.00" y2="95.10" stroke="#f0ee9a" stroke-width="1.3" stroke-dasharray="4.2 3"/>
<text x="449.40" y="97.80" font-size="7.15" text-anchor="start" font-weight="normal" font-style="normal" fill="#1a1a1a" color="#1a1a1a" >GMACC,<tspan font-style="italic">α</tspan>=1.8</text>
<line x1="436.20" y1="103.60" x2="448.00" y2="103.60" stroke="#e6d996" stroke-width="2.0" />
<text x="449.40" y="106.30" font-size="7.15" text-anchor="start" font-weight="normal" font-style="normal" fill="#1a1a1a" color="#1a1a1a" >GMACC,<tspan font-style="italic">α</tspan>=2.25</text>
<text x="132.70" y="297.70" font-size="8.55" text-anchor="middle" font-weight="normal" font-style="normal" fill="#1a1a1a" color="#1a1a1a" >Adaptive filter based on generalized maximum</text>
<text x="132.70" y="307.50" font-size="8.55" text-anchor="middle" font-weight="normal" font-style="normal" fill="#1a1a1a" color="#1a1a1a" >asymmetric correntropy criterion (GMACC)</text>
<text x="0.00" y="0.00" font-size="9.8" text-anchor="start" font-weight="normal" font-style="normal" fill="#1a1a1a" color="#1a1a1a" transform="translate(46.40,328.80) scale(0.8,1.0)">Φ</text>
<text x="52.60" y="331.40" font-size="7.2" text-anchor="start" font-weight="normal" font-style="normal" fill="#1a1a1a" color="#1a1a1a" ><tspan font-style="italic">k</tspan>+1</text>
<text x="67.20" y="328.80" font-size="9.8" text-anchor="start" font-weight="normal" font-style="normal" fill="#1a1a1a" color="#1a1a1a" >=</text>
<text x="0.00" y="0.00" font-size="9.8" text-anchor="start" font-weight="normal" font-style="normal" fill="#1a1a1a" color="#1a1a1a" transform="translate(75.30,328.80) scale(0.8,1.0)">Φ</text>
<text x="81.20" y="331.40" font-size="7.2" text-anchor="start" font-weight="normal" font-style="italic" fill="#1a1a1a" color="#1a1a1a" >k</text>
<text x="88.60" y="328.80" font-size="9.8" text-anchor="start" font-weight="normal" font-style="normal" fill="#1a1a1a" color="#1a1a1a" >−</text>
<text x="96.20" y="328.80" font-size="9.8" text-anchor="start" font-weight="normal" font-style="italic" fill="#1a1a1a" color="#1a1a1a" >μ</text>
<text x="99.90" y="328.80" font-size="9.8" text-anchor="start" font-weight="normal" font-style="normal" fill="#1a1a1a" color="#1a1a1a" font-family="DejaVu Math TeX Gyre" style="font-family:DejaVu Math TeX Gyre,serif;stroke-width:0.05px">∇</text>
<text x="107.60" y="328.80" font-size="9.8" text-anchor="start" font-weight="normal" font-style="normal" fill="#1a1a1a" color="#1a1a1a" >(</text>
<text x="110.80" y="328.80" font-size="9.8" text-anchor="start" font-weight="normal" font-style="italic" fill="#1a1a1a" color="#1a1a1a" >k</text>
<text x="116.20" y="328.80" font-size="9.8" text-anchor="start" font-weight="normal" font-style="normal" fill="#1a1a1a" color="#1a1a1a" >)</text>
<text x="121.90" y="328.80" font-size="9.8" text-anchor="start" font-weight="normal" font-style="normal" fill="#1a1a1a" color="#1a1a1a" >=</text>
<text x="0.00" y="0.00" font-size="9.8" text-anchor="start" font-weight="normal" font-style="normal" fill="#1a1a1a" color="#1a1a1a" transform="translate(131.00,328.80) scale(0.8,1.0)">Φ</text>
<text x="137.00" y="331.40" font-size="7.2" text-anchor="start" font-weight="normal" font-style="italic" fill="#1a1a1a" color="#1a1a1a" >k</text>
<text x="143.00" y="328.80" font-size="9.8" text-anchor="start" font-weight="normal" font-style="normal" fill="#1a1a1a" color="#1a1a1a" >+</text>
<text x="150.40" y="328.80" font-size="9.8" text-anchor="start" font-weight="normal" font-style="italic" fill="#1a1a1a" color="#1a1a1a" >μ</text>
<text x="155.20" y="328.80" font-size="9.8" text-anchor="start" font-weight="normal" font-style="italic" fill="#1a1a1a" color="#1a1a1a" >ϕ</text>
<text x="160.80" y="330.80" font-size="7.2" text-anchor="start" font-weight="normal" font-style="italic" fill="#1a1a1a" color="#1a1a1a" >GMACC</text>
<text x="187.60" y="328.80" font-size="9.8" text-anchor="start" font-weight="normal" font-style="normal" fill="#1a1a1a" color="#1a1a1a" >(</text>
<text x="190.80" y="328.80" font-size="9.8" text-anchor="start" font-weight="normal" font-style="italic" fill="#1a1a1a" color="#1a1a1a" >ε</text>
<text x="194.60" y="331.40" font-size="7.2" text-anchor="start" font-weight="normal" font-style="italic" fill="#1a1a1a" color="#1a1a1a" >k</text>
<text x="197.40" y="328.80" font-size="9.8" text-anchor="start" font-weight="normal" font-style="normal" fill="#1a1a1a" color="#1a1a1a" >)</text>
<text x="202.20" y="328.80" font-size="9.8" text-anchor="start" font-weight="normal" font-style="italic" fill="#1a1a1a" color="#1a1a1a" >ε</text>
<text x="206.00" y="331.40" font-size="7.2" text-anchor="start" font-weight="normal" font-style="italic" fill="#1a1a1a" color="#1a1a1a" >k</text>
<text x="209.40" y="328.80" font-size="9.8" text-anchor="start" font-weight="normal" font-style="normal" fill="#1a1a1a" color="#1a1a1a" >Γ</text>
<text x="215.20" y="331.40" font-size="7.2" text-anchor="start" font-weight="normal" font-style="italic" fill="#1a1a1a" color="#1a1a1a" >k</text>
<text x="220.00" y="328.80" font-size="9.8" text-anchor="start" font-weight="normal" font-style="normal" fill="#1a1a1a" color="#1a1a1a" >,</text>
<text x="31.60" y="362.70" font-size="9.8" text-anchor="start" font-weight="normal" font-style="italic" fill="#1a1a1a" color="#1a1a1a" >ϕ</text>
<text x="37.40" y="363.20" font-size="7.0" text-anchor="start" font-weight="normal" font-style="italic" fill="#1a1a1a" color="#1a1a1a" >GMACC</text>
<text x="63.40" y="362.70" font-size="9.8" text-anchor="start" font-weight="normal" font-style="normal" fill="#1a1a1a" color="#1a1a1a" >(</text>
<text x="67.00" y="362.70" font-size="9.8" text-anchor="start" font-weight="normal" font-style="italic" fill="#1a1a1a" color="#1a1a1a" >ε</text>
<text x="70.80" y="365.10" font-size="7.2" text-anchor="start" font-weight="normal" font-style="italic" fill="#1a1a1a" color="#1a1a1a" >k</text>
<text x="74.80" y="362.70" font-size="9.8" text-anchor="start" font-weight="normal" font-style="normal" fill="#1a1a1a" color="#1a1a1a" >)</text>
<text x="80.00" y="362.70" font-size="9.8" text-anchor="start" font-weight="normal" font-style="normal" fill="#1a1a1a" color="#1a1a1a" >=</text>
<text x="0.00" y="0.00" font-size="34" text-anchor="start" font-weight="normal" font-style="normal" fill="#1a1a1a" color="#1a1a1a" transform="translate(90.40,372.00) scale(0.42,1.0)">{</text>
<text x="100.60" y="353.10" font-size="9.2" text-anchor="start" font-weight="normal" font-style="normal" fill="#1a1a1a" color="#1a1a1a" >exp</text>
<text x="0.00" y="0.00" font-size="15" text-anchor="start" font-weight="normal" font-style="normal" fill="#1a1a1a" color="#1a1a1a" transform="translate(116.40,356.10) scale(0.7,1.0)">(</text>
<text x="121.20" y="353.10" font-size="9.2" text-anchor="start" font-weight="normal" font-style="normal" fill="#1a1a1a" color="#1a1a1a" >−</text>
<line x1="130.60" y1="344.30" x2="130.60" y2="357.90" stroke="#1a1a1a" stroke-width="0.6" />
<text x="136.20" y="351.10" font-size="5.6" text-anchor="middle" font-weight="normal" font-style="italic" fill="#1a1a1a" color="#1a1a1a" >ε</text>
<text x="138.20" y="351.90" font-size="4.0" text-anchor="start" font-weight="normal" font-style="italic" fill="#1a1a1a" color="#1a1a1a" >k</text>
<line x1="133.20" y1="352.50" x2="141.20" y2="352.50" stroke="#1a1a1a" stroke-width="0.45" />
<text x="135.40" y="357.10" font-size="5.6" text-anchor="middle" font-weight="normal" font-style="italic" fill="#1a1a1a" color="#1a1a1a" >σ</text>
<text x="137.40" y="358.00" font-size="4.0" text-anchor="start" font-weight="normal" font-style="normal" fill="#1a1a1a" color="#1a1a1a" >+</text>
<line x1="143.00" y1="344.30" x2="143.00" y2="357.90" stroke="#1a1a1a" stroke-width="0.6" />
<text x="144.80" y="346.30" font-size="5.4" text-anchor="start" font-weight="normal" font-style="italic" fill="#1a1a1a" color="#1a1a1a" >α</text>
<text x="0.00" y="0.00" font-size="15" text-anchor="start" font-weight="normal" font-style="normal" fill="#1a1a1a" color="#1a1a1a" transform="translate(150.00,356.10) scale(0.7,1.0)">)</text>
<line x1="156.60" y1="345.70" x2="156.60" y2="355.50" stroke="#1a1a1a" stroke-width="0.6" />
<text x="157.60" y="353.10" font-size="9.2" text-anchor="start" font-weight="normal" font-style="italic" fill="#1a1a1a" color="#1a1a1a" >ε</text>
<text x="161.60" y="355.10" font-size="6.6" text-anchor="start" font-weight="normal" font-style="italic" fill="#1a1a1a" color="#1a1a1a" >k</text>
<line x1="166.20" y1="345.70" x2="166.20" y2="355.50" stroke="#1a1a1a" stroke-width="0.6" />
<text x="167.40" y="349.10" font-size="6.8" text-anchor="start" font-weight="normal" font-style="normal" fill="#1a1a1a" color="#1a1a1a" ><tspan font-style="italic">α</tspan>−2</text>
<text x="181.60" y="353.10" font-size="9.2" text-anchor="start" font-weight="normal" font-style="normal" fill="#1a1a1a" color="#1a1a1a" >,</text>
<text x="193.40" y="353.10" font-size="9.2" text-anchor="start" font-weight="normal" font-style="normal" fill="#1a1a1a" color="#1a1a1a" >if</text>
<text x="200.20" y="353.10" font-size="9.2" text-anchor="start" font-weight="normal" font-style="italic" fill="#1a1a1a" color="#1a1a1a" >ε</text>
<text x="204.20" y="355.10" font-size="6.6" text-anchor="start" font-weight="normal" font-style="italic" fill="#1a1a1a" color="#1a1a1a" >k</text>
<text x="209.80" y="353.10" font-size="9.2" text-anchor="start" font-weight="normal" font-style="normal" fill="#1a1a1a" color="#1a1a1a" >≥</text>
<text x="218.00" y="353.10" font-size="9.2" text-anchor="start" font-weight="normal" font-style="normal" fill="#1a1a1a" color="#1a1a1a" >0</text>
<text x="100.60" y="369.20" font-size="9.2" text-anchor="start" font-weight="normal" font-style="normal" fill="#1a1a1a" color="#1a1a1a" >exp</text>
<text x="0.00" y="0.00" font-size="15" text-anchor="start" font-weight="normal" font-style="normal" fill="#1a1a1a" color="#1a1a1a" transform="translate(116.40,372.20) scale(0.7,1.0)">(</text>
<text x="121.20" y="369.20" font-size="9.2" text-anchor="start" font-weight="normal" font-style="normal" fill="#1a1a1a" color="#1a1a1a" >−</text>
<line x1="130.60" y1="360.40" x2="130.60" y2="374.00" stroke="#1a1a1a" stroke-width="0.6" />
<text x="136.20" y="367.20" font-size="5.6" text-anchor="middle" font-weight="normal" font-style="italic" fill="#1a1a1a" color="#1a1a1a" >ε</text>
<text x="138.20" y="368.00" font-size="4.0" text-anchor="start" font-weight="normal" font-style="italic" fill="#1a1a1a" color="#1a1a1a" >k</text>
<line x1="133.20" y1="368.60" x2="141.20" y2="368.60" stroke="#1a1a1a" stroke-width="0.45" />
<text x="135.40" y="373.20" font-size="5.6" text-anchor="middle" font-weight="normal" font-style="italic" fill="#1a1a1a" color="#1a1a1a" >σ</text>
<text x="137.40" y="374.10" font-size="4.0" text-anchor="start" font-weight="normal" font-style="normal" fill="#1a1a1a" color="#1a1a1a" >−</text>
<line x1="143.00" y1="360.40" x2="143.00" y2="374.00" stroke="#1a1a1a" stroke-width="0.6" />
<text x="144.80" y="362.40" font-size="5.4" text-anchor="start" font-weight="normal" font-style="italic" fill="#1a1a1a" color="#1a1a1a" >α</text>
<text x="0.00" y="0.00" font-size="15" text-anchor="start" font-weight="normal" font-style="normal" fill="#1a1a1a" color="#1a1a1a" transform="translate(150.00,372.20) scale(0.7,1.0)">)</text>
<line x1="156.60" y1="361.80" x2="156.60" y2="371.60" stroke="#1a1a1a" stroke-width="0.6" />
<text x="157.60" y="369.20" font-size="9.2" text-anchor="start" font-weight="normal" font-style="italic" fill="#1a1a1a" color="#1a1a1a" >ε</text>
<text x="161.60" y="371.20" font-size="6.6" text-anchor="start" font-weight="normal" font-style="italic" fill="#1a1a1a" color="#1a1a1a" >k</text>
<line x1="166.20" y1="361.80" x2="166.20" y2="371.60" stroke="#1a1a1a" stroke-width="0.6" />
<text x="167.40" y="365.20" font-size="6.8" text-anchor="start" font-weight="normal" font-style="normal" fill="#1a1a1a" color="#1a1a1a" ><tspan font-style="italic">α</tspan>−2</text>
<text x="181.60" y="369.20" font-size="9.2" text-anchor="start" font-weight="normal" font-style="normal" fill="#1a1a1a" color="#1a1a1a" >,</text>
<text x="193.40" y="369.20" font-size="9.2" text-anchor="start" font-weight="normal" font-style="normal" fill="#1a1a1a" color="#1a1a1a" >if</text>
<text x="200.20" y="369.20" font-size="9.2" text-anchor="start" font-weight="normal" font-style="italic" fill="#1a1a1a" color="#1a1a1a" >ε</text>
<text x="204.20" y="371.20" font-size="6.6" text-anchor="start" font-weight="normal" font-style="italic" fill="#1a1a1a" color="#1a1a1a" >k</text>
<text x="209.80" y="369.20" font-size="9.2" text-anchor="start" font-weight="normal" font-style="normal" fill="#1a1a1a" color="#1a1a1a" ><</text>
<text x="218.00" y="369.20" font-size="9.2" text-anchor="start" font-weight="normal" font-style="normal" fill="#1a1a1a" color="#1a1a1a" >0</text>
<text x="229.80" y="360.80" font-size="9.2" text-anchor="start" font-weight="normal" font-style="normal" fill="#1a1a1a" color="#1a1a1a" >.</text>
<rect x="242.6" y="312.8" width="42" height="23.2" fill="#fff" stroke="#44709e" stroke-width="2.9"/>
<text x="263.60" y="327.10" font-size="7.75" text-anchor="middle" font-weight="bold" font-style="normal" fill="#111" color="#111" style="stroke-width:0.15px" >GMACC</text>
<rect x="321.50" y="291.50" width="40.00" height="22.00" fill="#fff" stroke="#707070" stroke-width="1"/>
<text x="341.80" y="305.05" font-size="7.7" text-anchor="middle" font-weight="bold" font-style="normal" fill="#111" color="#111" style="stroke-width:0.15px" >MACC</text>
<rect x="321.50" y="335.50" width="40.00" height="22.00" fill="#fff" stroke="#707070" stroke-width="1"/>
<text x="341.80" y="349.55" font-size="7.7" text-anchor="middle" font-weight="bold" font-style="normal" fill="#111" color="#111" style="stroke-width:0.15px" >GMCC</text>
<rect x="399.50" y="314.50" width="41.00" height="20.00" fill="#fff" stroke="#707070" stroke-width="1"/>
<text x="420.15" y="327.15" font-size="7.7" text-anchor="middle" font-weight="bold" font-style="normal" fill="#111" color="#111" style="stroke-width:0.15px" >MCC</text>
<rect x="399.50" y="359.50" width="41.00" height="19.00" fill="#fff" stroke="#707070" stroke-width="1"/>
<text x="420.15" y="371.65" font-size="7.7" text-anchor="middle" font-weight="bold" font-style="normal" fill="#111" color="#111" style="stroke-width:0.15px" >LMP</text>
<rect x="477.50" y="336.50" width="40.00" height="21.00" fill="#fff" stroke="#707070" stroke-width="1"/>
<text x="497.90" y="349.70" font-size="7.7" text-anchor="middle" font-weight="bold" font-style="normal" fill="#111" color="#111" style="stroke-width:0.15px" >LMS</text>
<line x1="286.20" y1="323.20" x2="316.88" y2="306.27" stroke="#222" stroke-width="0.8" />
<polygon points="321.00,304.00 317.56,308.53 315.34,304.50" fill="#111"/>
<line x1="286.20" y1="325.60" x2="317.01" y2="344.81" stroke="#222" stroke-width="0.8" />
<polygon points="321.00,347.30 315.37,346.50 317.80,342.60" fill="#111"/>
<line x1="362.60" y1="302.80" x2="395.21" y2="323.11" stroke="#222" stroke-width="0.8" />
<polygon points="399.20,325.60 393.57,324.80 396.00,320.90" fill="#111"/>
<line x1="362.60" y1="346.00" x2="395.02" y2="329.35" stroke="#222" stroke-width="0.8" />
<polygon points="399.20,327.20 395.63,331.62 393.52,327.53" fill="#111"/>
<line x1="362.60" y1="347.60" x2="395.14" y2="366.63" stroke="#222" stroke-width="0.8" />
<polygon points="399.20,369.00 393.55,368.36 395.87,364.39" fill="#111"/>
<line x1="441.00" y1="325.00" x2="473.04" y2="343.64" stroke="#222" stroke-width="0.8" />
<polygon points="477.10,346.00 471.45,345.37 473.76,341.40" fill="#111"/>
<line x1="441.00" y1="368.50" x2="473.01" y2="350.32" stroke="#222" stroke-width="0.8" />
<polygon points="477.10,348.00 473.71,352.57 471.44,348.57" fill="#111"/>
<text x="295.80" y="297.80" font-size="7.4" text-anchor="start" font-weight="normal" font-style="italic" fill="#3a3a3a" color="#3a3a3a" >α</text>
<text x="302.60" y="297.80" font-size="7.6" text-anchor="start" font-weight="normal" font-style="normal" fill="#555" color="#555" >=</text>
<text x="309.20" y="297.80" font-size="7.6" text-anchor="start" font-weight="normal" font-style="normal" fill="#3a3a3a" color="#3a3a3a" >2</text>
<text x="295.00" y="359.60" font-size="7.4" text-anchor="start" font-weight="normal" font-style="italic" fill="#3a3a3a" color="#3a3a3a" >σ</text>
<text x="299.60" y="361.20" font-size="4.2" text-anchor="start" font-weight="normal" font-style="normal" fill="#3a3a3a" color="#3a3a3a" >+</text>
<text x="303.60" y="359.60" font-size="7.6" text-anchor="start" font-weight="normal" font-style="normal" fill="#555" color="#555" >=</text>
<text x="308.60" y="359.60" font-size="7.4" text-anchor="start" font-weight="normal" font-style="italic" fill="#3a3a3a" color="#3a3a3a" >σ</text>
<text x="313.20" y="361.20" font-size="4.2" text-anchor="start" font-weight="normal" font-style="normal" fill="#3a3a3a" color="#3a3a3a" >−</text>
<text x="373.60" y="299.20" font-size="7.4" text-anchor="start" font-weight="normal" font-style="italic" fill="#3a3a3a" color="#3a3a3a" >σ</text>
<text x="378.20" y="300.80" font-size="4.2" text-anchor="start" font-weight="normal" font-style="normal" fill="#3a3a3a" color="#3a3a3a" >+</text>
<text x="382.20" y="299.20" font-size="7.6" text-anchor="start" font-weight="normal" font-style="normal" fill="#555" color="#555" >=</text>
<text x="387.20" y="299.20" font-size="7.4" text-anchor="start" font-weight="normal" font-style="italic" fill="#3a3a3a" color="#3a3a3a" >σ</text>
<text x="391.80" y="300.80" font-size="4.2" text-anchor="start" font-weight="normal" font-style="normal" fill="#3a3a3a" color="#3a3a3a" >−</text>
<text x="367.40" y="331.00" font-size="7.4" text-anchor="start" font-weight="normal" font-style="italic" fill="#3a3a3a" color="#3a3a3a" >α</text>
<text x="374.20" y="331.00" font-size="7.6" text-anchor="start" font-weight="normal" font-style="normal" fill="#555" color="#555" >=</text>
<text x="380.80" y="331.00" font-size="7.6" text-anchor="start" font-weight="normal" font-style="normal" fill="#3a3a3a" color="#3a3a3a" >2</text>
<text x="368.80" y="371.00" font-size="7.6" text-anchor="start" font-weight="normal" font-style="italic" fill="#3a3a3a" color="#3a3a3a" >σ</text>
<text x="375.40" y="370.60" font-size="8.6" text-anchor="start" font-weight="normal" font-style="normal" fill="#555" color="#555" style="stroke-width:0.05px" >→</text>
<text x="384.60" y="372.40" font-size="8.8" text-anchor="start" font-weight="normal" font-style="normal" fill="#3a3a3a" color="#3a3a3a" style="stroke-width:0.1px" >∞</text>
<text x="450.20" y="327.00" font-size="7.6" text-anchor="start" font-weight="normal" font-style="italic" fill="#3a3a3a" color="#3a3a3a" >σ</text>
<text x="456.80" y="326.60" font-size="8.6" text-anchor="start" font-weight="normal" font-style="normal" fill="#555" color="#555" style="stroke-width:0.05px" >→</text>
<text x="466.00" y="328.40" font-size="8.8" text-anchor="start" font-weight="normal" font-style="normal" fill="#3a3a3a" color="#3a3a3a" style="stroke-width:0.1px" >∞</text>
<text x="451.40" y="367.40" font-size="7.4" text-anchor="start" font-weight="normal" font-style="italic" fill="#3a3a3a" color="#3a3a3a" >α</text>
<text x="458.20" y="367.40" font-size="7.6" text-anchor="start" font-weight="normal" font-style="normal" fill="#555" color="#555" >=</text>
<text x="464.80" y="367.40" font-size="7.6" text-anchor="start" font-weight="normal" font-style="normal" fill="#3a3a3a" color="#3a3a3a" >2</text>
</svg></div></body></html>
